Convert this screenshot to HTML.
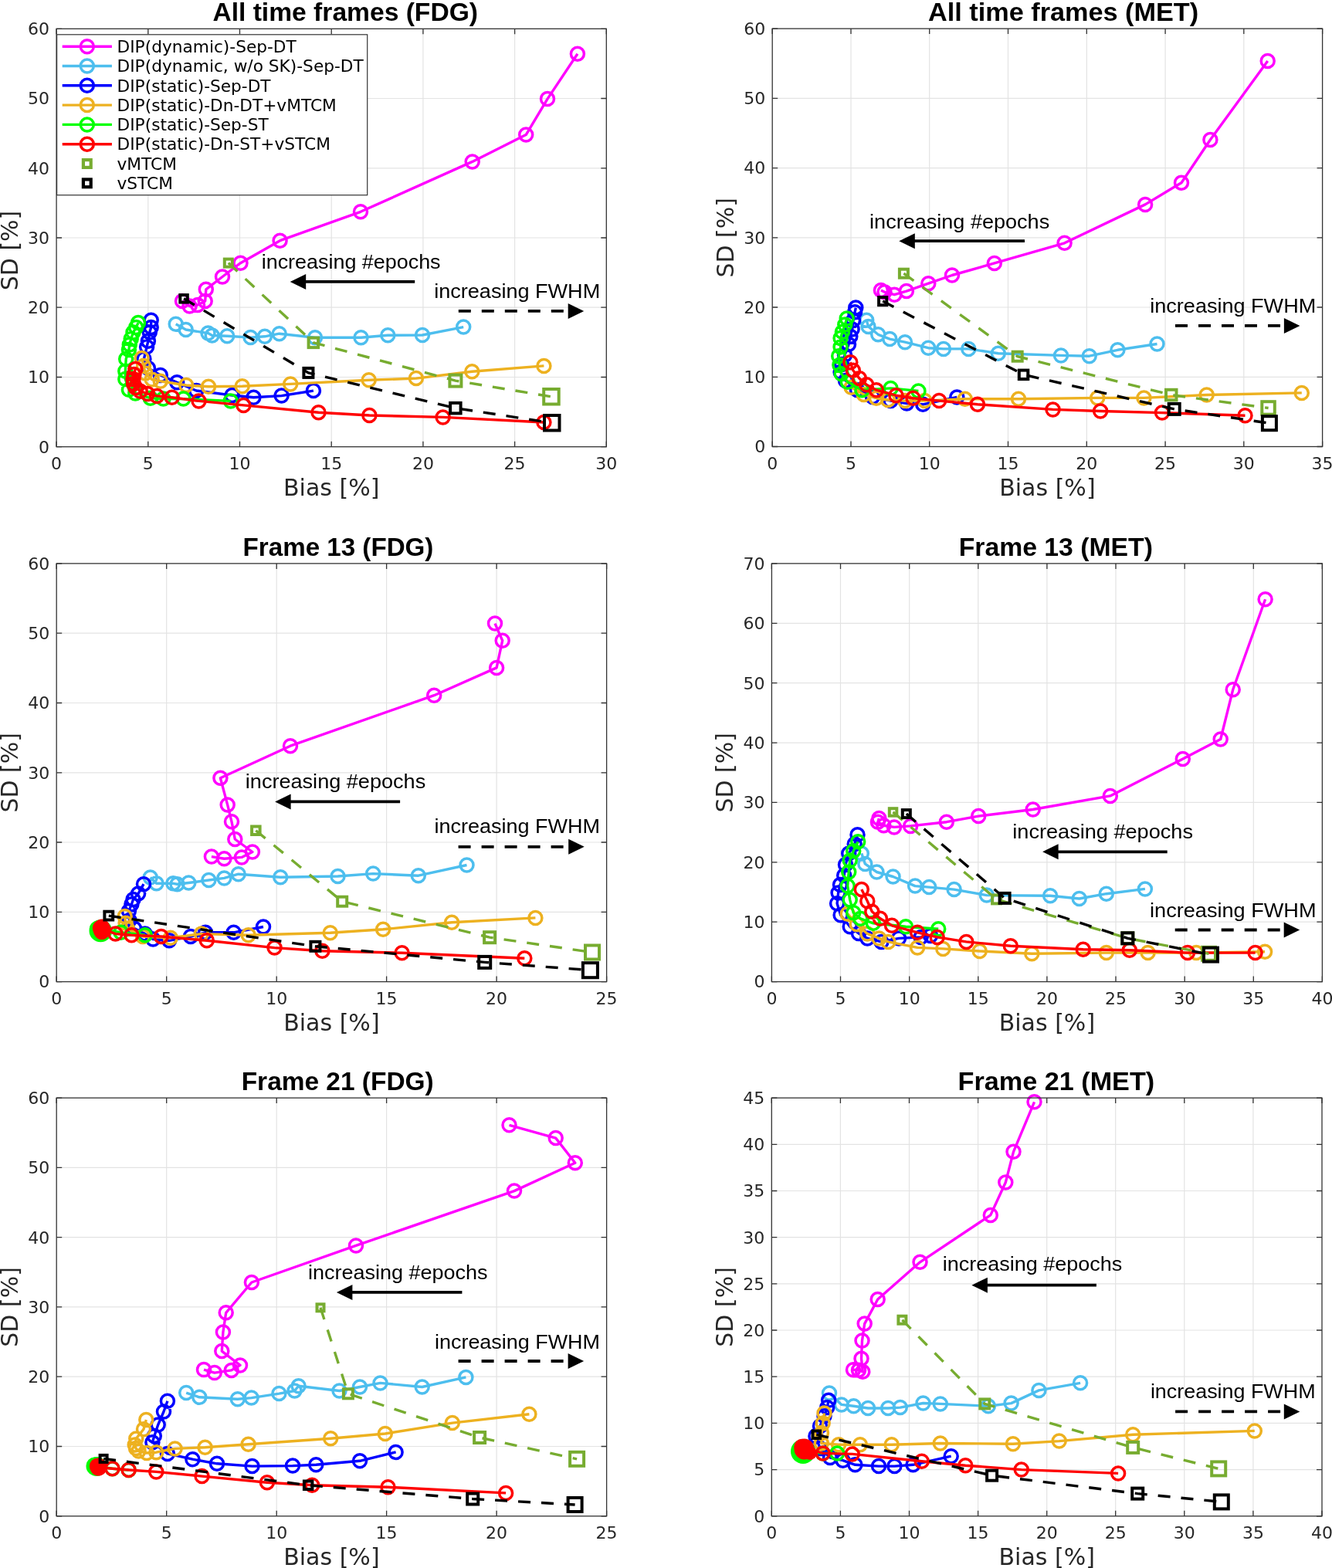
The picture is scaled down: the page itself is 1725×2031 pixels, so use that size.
<!DOCTYPE html>
<html><head><meta charset="utf-8"><style>
html,body{margin:0;padding:0;background:#fff;}
svg{display:block;}
</style></head><body>
<svg width="1725" height="2031" viewBox="0 0 1725 2031" font-family="'DejaVu Sans', 'Liberation Sans', sans-serif">
<rect width="1725" height="2031" fill="#fff"/>
<path d="M191.8 37.3V578.7M310.5 37.3V578.7M429.2 37.3V578.7M547.9 37.3V578.7M666.6 37.3V578.7M73.1 488.5H785.3M73.1 398.2H785.3M73.1 308H785.3M73.1 217.8H785.3M73.1 127.5H785.3" stroke="#e3e3e3" stroke-width="1.2" fill="none"/>
<clipPath id="c1"><rect x="61.1" y="25.3" width="736.2" height="565.4"/></clipPath>
<g clip-path="url(#c1)">
<polyline points="747.9,69.7 709,128.1 681.2,174.6 611.7,209.4 467,274.3 362.6,311.7 311.5,340.7 288,358.5 266.8,374.8 265.7,390 256,395 245.5,396.6 236,390" fill="none" stroke="#FF00FF" stroke-width="3.4" stroke-linejoin="round"/>
<path d="M739.4 69.7a8.5 8.5 0 1 0 17.0 0a8.5 8.5 0 1 0 -17.0 0M700.5 128.1a8.5 8.5 0 1 0 17.0 0a8.5 8.5 0 1 0 -17.0 0M672.7 174.6a8.5 8.5 0 1 0 17.0 0a8.5 8.5 0 1 0 -17.0 0M603.2 209.4a8.5 8.5 0 1 0 17.0 0a8.5 8.5 0 1 0 -17.0 0M458.5 274.3a8.5 8.5 0 1 0 17.0 0a8.5 8.5 0 1 0 -17.0 0M354.1 311.7a8.5 8.5 0 1 0 17.0 0a8.5 8.5 0 1 0 -17.0 0M303 340.7a8.5 8.5 0 1 0 17.0 0a8.5 8.5 0 1 0 -17.0 0M279.5 358.5a8.5 8.5 0 1 0 17.0 0a8.5 8.5 0 1 0 -17.0 0M258.3 374.8a8.5 8.5 0 1 0 17.0 0a8.5 8.5 0 1 0 -17.0 0M257.2 390a8.5 8.5 0 1 0 17.0 0a8.5 8.5 0 1 0 -17.0 0M247.5 395a8.5 8.5 0 1 0 17.0 0a8.5 8.5 0 1 0 -17.0 0M237 396.6a8.5 8.5 0 1 0 17.0 0a8.5 8.5 0 1 0 -17.0 0M227.5 390a8.5 8.5 0 1 0 17.0 0a8.5 8.5 0 1 0 -17.0 0" fill="none" stroke="#FF00FF" stroke-width="3.5"/>
<polyline points="227.7,419.8 240.7,427 269.5,431.6 274.7,434.5 294.2,435.3 324.5,437.1 342.9,435.8 361.7,432.2 408,437.2 467.5,437.2 502.3,434.3 547,434 600.2,423.6" fill="none" stroke="#4DBEEE" stroke-width="3.4" stroke-linejoin="round"/>
<path d="M219.2 419.8a8.5 8.5 0 1 0 17.0 0a8.5 8.5 0 1 0 -17.0 0M232.2 427a8.5 8.5 0 1 0 17.0 0a8.5 8.5 0 1 0 -17.0 0M261 431.6a8.5 8.5 0 1 0 17.0 0a8.5 8.5 0 1 0 -17.0 0M266.2 434.5a8.5 8.5 0 1 0 17.0 0a8.5 8.5 0 1 0 -17.0 0M285.7 435.3a8.5 8.5 0 1 0 17.0 0a8.5 8.5 0 1 0 -17.0 0M316 437.1a8.5 8.5 0 1 0 17.0 0a8.5 8.5 0 1 0 -17.0 0M334.4 435.8a8.5 8.5 0 1 0 17.0 0a8.5 8.5 0 1 0 -17.0 0M353.2 432.2a8.5 8.5 0 1 0 17.0 0a8.5 8.5 0 1 0 -17.0 0M399.5 437.2a8.5 8.5 0 1 0 17.0 0a8.5 8.5 0 1 0 -17.0 0M459 437.2a8.5 8.5 0 1 0 17.0 0a8.5 8.5 0 1 0 -17.0 0M493.8 434.3a8.5 8.5 0 1 0 17.0 0a8.5 8.5 0 1 0 -17.0 0M538.5 434a8.5 8.5 0 1 0 17.0 0a8.5 8.5 0 1 0 -17.0 0M591.7 423.6a8.5 8.5 0 1 0 17.0 0a8.5 8.5 0 1 0 -17.0 0" fill="none" stroke="#4DBEEE" stroke-width="3.5"/>
<polyline points="195.7,414.8 195.7,424.1 193.8,430.6 191.9,441.7 190.1,449.2 186.4,465 192,477 207.8,486 229.2,495.3 254.2,506 300.6,512 328.4,514.7 364.6,512.6 405.9,506.1" fill="none" stroke="#0000FF" stroke-width="3.4" stroke-linejoin="round"/>
<path d="M187.2 414.8a8.5 8.5 0 1 0 17.0 0a8.5 8.5 0 1 0 -17.0 0M187.2 424.1a8.5 8.5 0 1 0 17.0 0a8.5 8.5 0 1 0 -17.0 0M185.3 430.6a8.5 8.5 0 1 0 17.0 0a8.5 8.5 0 1 0 -17.0 0M183.4 441.7a8.5 8.5 0 1 0 17.0 0a8.5 8.5 0 1 0 -17.0 0M181.6 449.2a8.5 8.5 0 1 0 17.0 0a8.5 8.5 0 1 0 -17.0 0M177.9 465a8.5 8.5 0 1 0 17.0 0a8.5 8.5 0 1 0 -17.0 0M183.5 477a8.5 8.5 0 1 0 17.0 0a8.5 8.5 0 1 0 -17.0 0M199.3 486a8.5 8.5 0 1 0 17.0 0a8.5 8.5 0 1 0 -17.0 0M220.7 495.3a8.5 8.5 0 1 0 17.0 0a8.5 8.5 0 1 0 -17.0 0M245.7 506a8.5 8.5 0 1 0 17.0 0a8.5 8.5 0 1 0 -17.0 0M292.1 512a8.5 8.5 0 1 0 17.0 0a8.5 8.5 0 1 0 -17.0 0M319.9 514.7a8.5 8.5 0 1 0 17.0 0a8.5 8.5 0 1 0 -17.0 0M356.1 512.6a8.5 8.5 0 1 0 17.0 0a8.5 8.5 0 1 0 -17.0 0M397.4 506.1a8.5 8.5 0 1 0 17.0 0a8.5 8.5 0 1 0 -17.0 0" fill="none" stroke="#0000FF" stroke-width="3.5"/>
<polyline points="183.6,464 186,474 188.2,483.5 196.7,491.5 207.7,493.7 241.2,499 270,500.8 313.7,500.3 376.2,497.4 477.7,492.3 538.9,490.1 611.3,481.3 704.4,473.9" fill="none" stroke="#EDB120" stroke-width="3.4" stroke-linejoin="round"/>
<path d="M175.1 464a8.5 8.5 0 1 0 17.0 0a8.5 8.5 0 1 0 -17.0 0M177.5 474a8.5 8.5 0 1 0 17.0 0a8.5 8.5 0 1 0 -17.0 0M179.7 483.5a8.5 8.5 0 1 0 17.0 0a8.5 8.5 0 1 0 -17.0 0M188.2 491.5a8.5 8.5 0 1 0 17.0 0a8.5 8.5 0 1 0 -17.0 0M199.2 493.7a8.5 8.5 0 1 0 17.0 0a8.5 8.5 0 1 0 -17.0 0M232.7 499a8.5 8.5 0 1 0 17.0 0a8.5 8.5 0 1 0 -17.0 0M261.5 500.8a8.5 8.5 0 1 0 17.0 0a8.5 8.5 0 1 0 -17.0 0M305.2 500.3a8.5 8.5 0 1 0 17.0 0a8.5 8.5 0 1 0 -17.0 0M367.7 497.4a8.5 8.5 0 1 0 17.0 0a8.5 8.5 0 1 0 -17.0 0M469.2 492.3a8.5 8.5 0 1 0 17.0 0a8.5 8.5 0 1 0 -17.0 0M530.4 490.1a8.5 8.5 0 1 0 17.0 0a8.5 8.5 0 1 0 -17.0 0M602.8 481.3a8.5 8.5 0 1 0 17.0 0a8.5 8.5 0 1 0 -17.0 0M695.9 473.9a8.5 8.5 0 1 0 17.0 0a8.5 8.5 0 1 0 -17.0 0" fill="none" stroke="#EDB120" stroke-width="3.5"/>
<polyline points="179,418.1 176.2,424.1 172.5,430.6 169.7,439 167.8,446.4 166.9,452.9 163.2,465 162.3,480.7 162.3,491 166.9,504.8 175.3,509.5 194.8,515.7 211.5,516.6 237.5,516.6 298.7,519.4" fill="none" stroke="#00FF00" stroke-width="3.4" stroke-linejoin="round"/>
<path d="M170.5 418.1a8.5 8.5 0 1 0 17.0 0a8.5 8.5 0 1 0 -17.0 0M167.7 424.1a8.5 8.5 0 1 0 17.0 0a8.5 8.5 0 1 0 -17.0 0M164 430.6a8.5 8.5 0 1 0 17.0 0a8.5 8.5 0 1 0 -17.0 0M161.2 439a8.5 8.5 0 1 0 17.0 0a8.5 8.5 0 1 0 -17.0 0M159.3 446.4a8.5 8.5 0 1 0 17.0 0a8.5 8.5 0 1 0 -17.0 0M158.4 452.9a8.5 8.5 0 1 0 17.0 0a8.5 8.5 0 1 0 -17.0 0M154.7 465a8.5 8.5 0 1 0 17.0 0a8.5 8.5 0 1 0 -17.0 0M153.8 480.7a8.5 8.5 0 1 0 17.0 0a8.5 8.5 0 1 0 -17.0 0M153.8 491a8.5 8.5 0 1 0 17.0 0a8.5 8.5 0 1 0 -17.0 0M158.4 504.8a8.5 8.5 0 1 0 17.0 0a8.5 8.5 0 1 0 -17.0 0M166.8 509.5a8.5 8.5 0 1 0 17.0 0a8.5 8.5 0 1 0 -17.0 0M186.3 515.7a8.5 8.5 0 1 0 17.0 0a8.5 8.5 0 1 0 -17.0 0M203 516.6a8.5 8.5 0 1 0 17.0 0a8.5 8.5 0 1 0 -17.0 0M229 516.6a8.5 8.5 0 1 0 17.0 0a8.5 8.5 0 1 0 -17.0 0M290.2 519.4a8.5 8.5 0 1 0 17.0 0a8.5 8.5 0 1 0 -17.0 0" fill="none" stroke="#00FF00" stroke-width="3.5"/>
<polyline points="175.3,477.9 173.5,485 172.5,491 173,497 175.5,502 181.7,506.7 191,510 203.2,512.9 222.7,514.7 257.5,519.4 315.4,524.9 412.5,534.3 478.4,538 573.6,540.4 704.4,547" fill="none" stroke="#FF0000" stroke-width="3.4" stroke-linejoin="round"/>
<path d="M166.8 477.9a8.5 8.5 0 1 0 17.0 0a8.5 8.5 0 1 0 -17.0 0M165 485a8.5 8.5 0 1 0 17.0 0a8.5 8.5 0 1 0 -17.0 0M164 491a8.5 8.5 0 1 0 17.0 0a8.5 8.5 0 1 0 -17.0 0M164.5 497a8.5 8.5 0 1 0 17.0 0a8.5 8.5 0 1 0 -17.0 0M167 502a8.5 8.5 0 1 0 17.0 0a8.5 8.5 0 1 0 -17.0 0M173.2 506.7a8.5 8.5 0 1 0 17.0 0a8.5 8.5 0 1 0 -17.0 0M182.5 510a8.5 8.5 0 1 0 17.0 0a8.5 8.5 0 1 0 -17.0 0M194.7 512.9a8.5 8.5 0 1 0 17.0 0a8.5 8.5 0 1 0 -17.0 0M214.2 514.7a8.5 8.5 0 1 0 17.0 0a8.5 8.5 0 1 0 -17.0 0M249 519.4a8.5 8.5 0 1 0 17.0 0a8.5 8.5 0 1 0 -17.0 0M306.9 524.9a8.5 8.5 0 1 0 17.0 0a8.5 8.5 0 1 0 -17.0 0M404 534.3a8.5 8.5 0 1 0 17.0 0a8.5 8.5 0 1 0 -17.0 0M469.9 538a8.5 8.5 0 1 0 17.0 0a8.5 8.5 0 1 0 -17.0 0M565.1 540.4a8.5 8.5 0 1 0 17.0 0a8.5 8.5 0 1 0 -17.0 0M695.9 547a8.5 8.5 0 1 0 17.0 0a8.5 8.5 0 1 0 -17.0 0" fill="none" stroke="#FF0000" stroke-width="3.5"/>
<ellipse cx="175" cy="493" rx="3" ry="7" fill="#FF0000"/>
<polyline points="295.8,340.6 405.9,443.8 589.9,493.1 714,513.8" fill="none" stroke="#77AC30" stroke-width="3.4" stroke-dasharray="16 14"/>
<rect x="290.8" y="335.6" width="10" height="10" fill="none" stroke="#77AC30" stroke-width="4.0"/>
<rect x="399.6" y="437.6" width="12.5" height="12.5" fill="none" stroke="#77AC30" stroke-width="4.0"/>
<rect x="582.4" y="485.6" width="15" height="15" fill="none" stroke="#77AC30" stroke-width="4.0"/>
<rect x="704.2" y="504" width="19.5" height="19.5" fill="none" stroke="#77AC30" stroke-width="4.0"/>
<polyline points="238.1,386.8 399.4,482.9 589.9,528.6 714.8,547.8" fill="none" stroke="#000000" stroke-width="3.4" stroke-dasharray="16 14"/>
<rect x="233.3" y="382.1" width="9.5" height="9.5" fill="none" stroke="#000000" stroke-width="4.0"/>
<rect x="393.4" y="476.9" width="12" height="12" fill="none" stroke="#000000" stroke-width="4.0"/>
<rect x="583.1" y="521.9" width="13.5" height="13.5" fill="none" stroke="#000000" stroke-width="4.0"/>
<rect x="705" y="538" width="19.5" height="19.5" fill="none" stroke="#000000" stroke-width="4.0"/>
</g>
<text x="338.7" y="348.3" font-family="'Liberation Sans', sans-serif" font-size="25.5" textLength="231.9" lengthAdjust="spacingAndGlyphs" fill="#000">increasing #epochs</text>
<path d="M537.2 364.9H395.2" stroke="#000" stroke-width="3.8"/><path d="M375.7 364.9L396.2 354.9L396.2 374.9Z" fill="#000"/>
<text x="562.2" y="386.0" font-family="'Liberation Sans', sans-serif" font-size="25.5" textLength="215.0" lengthAdjust="spacingAndGlyphs" fill="#000">increasing FWHM</text>
<path d="M593.8 402.9H735.7" stroke="#000" stroke-width="3.8" stroke-dasharray="16 14"/><path d="M756.2 402.9L735.7 392.9L735.7 412.9Z" fill="#000"/>
<rect x="73.1" y="37.3" width="712.2" height="541.4" fill="none" stroke="#333" stroke-width="1.3"/>
<path d="M73.1 578.7v-7M73.1 37.3v7M191.8 578.7v-7M191.8 37.3v7M310.5 578.7v-7M310.5 37.3v7M429.2 578.7v-7M429.2 37.3v7M547.9 578.7v-7M547.9 37.3v7M666.6 578.7v-7M666.6 37.3v7M785.3 578.7v-7M785.3 37.3v7M73.1 578.7h7M785.3 578.7h-7M73.1 488.5h7M785.3 488.5h-7M73.1 398.2h7M785.3 398.2h-7M73.1 308h7M785.3 308h-7M73.1 217.8h7M785.3 217.8h-7M73.1 127.5h7M785.3 127.5h-7M73.1 37.3h7M785.3 37.3h-7" stroke="#333" stroke-width="1.3" fill="none"/>
<text x="73.1" y="607.7" text-anchor="middle" font-size="22" fill="#262626">0</text>
<text x="191.8" y="607.7" text-anchor="middle" font-size="22" fill="#262626">5</text>
<text x="310.5" y="607.7" text-anchor="middle" font-size="22" fill="#262626">10</text>
<text x="429.2" y="607.7" text-anchor="middle" font-size="22" fill="#262626">15</text>
<text x="547.9" y="607.7" text-anchor="middle" font-size="22" fill="#262626">20</text>
<text x="666.6" y="607.7" text-anchor="middle" font-size="22" fill="#262626">25</text>
<text x="785.3" y="607.7" text-anchor="middle" font-size="22" fill="#262626">30</text>
<text x="64.1" y="586.5" text-anchor="end" font-size="22" fill="#262626">0</text>
<text x="64.1" y="496.3" text-anchor="end" font-size="22" fill="#262626">10</text>
<text x="64.1" y="406" text-anchor="end" font-size="22" fill="#262626">20</text>
<text x="64.1" y="315.8" text-anchor="end" font-size="22" fill="#262626">30</text>
<text x="64.1" y="225.6" text-anchor="end" font-size="22" fill="#262626">40</text>
<text x="64.1" y="135.3" text-anchor="end" font-size="22" fill="#262626">50</text>
<text x="64.1" y="45.1" text-anchor="end" font-size="22" fill="#262626">60</text>
<text x="429.2" y="641.7" text-anchor="middle" font-size="30" fill="#262626">Bias [%]</text>
<text transform="translate(23.1 324.5) rotate(-90)" text-anchor="middle" font-size="30" fill="#262626">SD [%]</text>
<text x="275.4" y="27.2" font-family="'Liberation Sans', 'DejaVu Sans', sans-serif" font-weight="bold" font-size="34" textLength="343.6" lengthAdjust="spacingAndGlyphs" fill="#000">All time frames (FDG)</text>
<rect x="73.6" y="44.8" width="402.1" height="207.89999999999998" fill="#fff" stroke="#333" stroke-width="1.2"/>
<path d="M80.7 60.2H144.9" stroke="#FF00FF" stroke-width="3.4"/>
<circle cx="112.8" cy="60.2" r="8.5" fill="none" stroke="#FF00FF" stroke-width="3.5"/>
<text x="151.5" y="67.9" font-size="21.7" fill="#000">DIP(dynamic)-Sep-DT</text>
<path d="M80.7 85.5H144.9" stroke="#4DBEEE" stroke-width="3.4"/>
<circle cx="112.8" cy="85.5" r="8.5" fill="none" stroke="#4DBEEE" stroke-width="3.5"/>
<text x="151.5" y="93.2" font-size="21.7" fill="#000">DIP(dynamic, w/o SK)-Sep-DT</text>
<path d="M80.7 110.8H144.9" stroke="#0000FF" stroke-width="3.4"/>
<circle cx="112.8" cy="110.8" r="8.5" fill="none" stroke="#0000FF" stroke-width="3.5"/>
<text x="151.5" y="118.5" font-size="21.7" fill="#000">DIP(static)-Sep-DT</text>
<path d="M80.7 136.1H144.9" stroke="#EDB120" stroke-width="3.4"/>
<circle cx="112.8" cy="136.1" r="8.5" fill="none" stroke="#EDB120" stroke-width="3.5"/>
<text x="151.5" y="143.8" font-size="21.7" fill="#000">DIP(static)-Dn-DT+vMTCM</text>
<path d="M80.7 161.4H144.9" stroke="#00FF00" stroke-width="3.4"/>
<circle cx="112.8" cy="161.4" r="8.5" fill="none" stroke="#00FF00" stroke-width="3.5"/>
<text x="151.5" y="169.1" font-size="21.7" fill="#000">DIP(static)-Sep-ST</text>
<path d="M80.7 186.7H144.9" stroke="#FF0000" stroke-width="3.4"/>
<circle cx="112.8" cy="186.7" r="8.5" fill="none" stroke="#FF0000" stroke-width="3.5"/>
<text x="151.5" y="194.4" font-size="21.7" fill="#000">DIP(static)-Dn-ST+vSTCM</text>
<rect x="107.9" y="207.1" width="9.8" height="9.8" fill="none" stroke="#77AC30" stroke-width="4.2"/>
<text x="151.5" y="219.7" font-size="21.7" fill="#000">vMTCM</text>
<rect x="107.9" y="232.4" width="9.8" height="9.8" fill="none" stroke="#000000" stroke-width="4.2"/>
<text x="151.5" y="245" font-size="21.7" fill="#000">vSTCM</text>
<path d="M1102 37.1V578.5M1203.7 37.1V578.5M1305.5 37.1V578.5M1407.3 37.1V578.5M1509.1 37.1V578.5M1610.8 37.1V578.5M1000.2 488.3H1712.6M1000.2 398H1712.6M1000.2 307.8H1712.6M1000.2 217.6H1712.6M1000.2 127.3H1712.6" stroke="#e3e3e3" stroke-width="1.2" fill="none"/>
<clipPath id="c2"><rect x="988.2" y="25.1" width="736.4" height="565.4"/></clipPath>
<g clip-path="url(#c2)">
<polyline points="1641.7,79.1 1567.4,181 1530,236.7 1483.1,264.9 1378.6,314.8 1287.8,340.9 1233,356.5 1202.3,367.2 1173.9,377.1 1158.3,381.7 1145.5,378.3 1140.9,375.9" fill="none" stroke="#FF00FF" stroke-width="3.4" stroke-linejoin="round"/>
<path d="M1633.2 79.1a8.5 8.5 0 1 0 17.0 0a8.5 8.5 0 1 0 -17.0 0M1558.9 181a8.5 8.5 0 1 0 17.0 0a8.5 8.5 0 1 0 -17.0 0M1521.5 236.7a8.5 8.5 0 1 0 17.0 0a8.5 8.5 0 1 0 -17.0 0M1474.6 264.9a8.5 8.5 0 1 0 17.0 0a8.5 8.5 0 1 0 -17.0 0M1370.1 314.8a8.5 8.5 0 1 0 17.0 0a8.5 8.5 0 1 0 -17.0 0M1279.3 340.9a8.5 8.5 0 1 0 17.0 0a8.5 8.5 0 1 0 -17.0 0M1224.5 356.5a8.5 8.5 0 1 0 17.0 0a8.5 8.5 0 1 0 -17.0 0M1193.8 367.2a8.5 8.5 0 1 0 17.0 0a8.5 8.5 0 1 0 -17.0 0M1165.4 377.1a8.5 8.5 0 1 0 17.0 0a8.5 8.5 0 1 0 -17.0 0M1149.8 381.7a8.5 8.5 0 1 0 17.0 0a8.5 8.5 0 1 0 -17.0 0M1137 378.3a8.5 8.5 0 1 0 17.0 0a8.5 8.5 0 1 0 -17.0 0M1132.4 375.9a8.5 8.5 0 1 0 17.0 0a8.5 8.5 0 1 0 -17.0 0" fill="none" stroke="#FF00FF" stroke-width="3.5"/>
<polyline points="1122.2,414.8 1124.5,422.9 1137.2,433.3 1152.3,439.1 1172,443.2 1202.2,450.7 1221.9,451.9 1254.3,451.9 1292.8,457.8 1374,460.4 1410.7,461.2 1447.4,453.3 1498.5,445.5" fill="none" stroke="#4DBEEE" stroke-width="3.4" stroke-linejoin="round"/>
<path d="M1113.7 414.8a8.5 8.5 0 1 0 17.0 0a8.5 8.5 0 1 0 -17.0 0M1116 422.9a8.5 8.5 0 1 0 17.0 0a8.5 8.5 0 1 0 -17.0 0M1128.7 433.3a8.5 8.5 0 1 0 17.0 0a8.5 8.5 0 1 0 -17.0 0M1143.8 439.1a8.5 8.5 0 1 0 17.0 0a8.5 8.5 0 1 0 -17.0 0M1163.5 443.2a8.5 8.5 0 1 0 17.0 0a8.5 8.5 0 1 0 -17.0 0M1193.7 450.7a8.5 8.5 0 1 0 17.0 0a8.5 8.5 0 1 0 -17.0 0M1213.4 451.9a8.5 8.5 0 1 0 17.0 0a8.5 8.5 0 1 0 -17.0 0M1245.8 451.9a8.5 8.5 0 1 0 17.0 0a8.5 8.5 0 1 0 -17.0 0M1284.3 457.8a8.5 8.5 0 1 0 17.0 0a8.5 8.5 0 1 0 -17.0 0M1365.5 460.4a8.5 8.5 0 1 0 17.0 0a8.5 8.5 0 1 0 -17.0 0M1402.2 461.2a8.5 8.5 0 1 0 17.0 0a8.5 8.5 0 1 0 -17.0 0M1438.9 453.3a8.5 8.5 0 1 0 17.0 0a8.5 8.5 0 1 0 -17.0 0M1490 445.5a8.5 8.5 0 1 0 17.0 0a8.5 8.5 0 1 0 -17.0 0" fill="none" stroke="#4DBEEE" stroke-width="3.5"/>
<polyline points="1108.3,398.6 1107.1,404.3 1105,415 1103.6,426.4 1101.3,435.7 1099,446.1 1094,460 1090,472 1088.6,482 1095,493 1110,505 1130,514 1153.5,519.1 1174.3,522.6 1195.2,523.8 1239.3,514.5" fill="none" stroke="#0000FF" stroke-width="3.4" stroke-linejoin="round"/>
<path d="M1099.8 398.6a8.5 8.5 0 1 0 17.0 0a8.5 8.5 0 1 0 -17.0 0M1098.6 404.3a8.5 8.5 0 1 0 17.0 0a8.5 8.5 0 1 0 -17.0 0M1096.5 415a8.5 8.5 0 1 0 17.0 0a8.5 8.5 0 1 0 -17.0 0M1095.1 426.4a8.5 8.5 0 1 0 17.0 0a8.5 8.5 0 1 0 -17.0 0M1092.8 435.7a8.5 8.5 0 1 0 17.0 0a8.5 8.5 0 1 0 -17.0 0M1090.5 446.1a8.5 8.5 0 1 0 17.0 0a8.5 8.5 0 1 0 -17.0 0M1085.5 460a8.5 8.5 0 1 0 17.0 0a8.5 8.5 0 1 0 -17.0 0M1081.5 472a8.5 8.5 0 1 0 17.0 0a8.5 8.5 0 1 0 -17.0 0M1080.1 482a8.5 8.5 0 1 0 17.0 0a8.5 8.5 0 1 0 -17.0 0M1086.5 493a8.5 8.5 0 1 0 17.0 0a8.5 8.5 0 1 0 -17.0 0M1101.5 505a8.5 8.5 0 1 0 17.0 0a8.5 8.5 0 1 0 -17.0 0M1121.5 514a8.5 8.5 0 1 0 17.0 0a8.5 8.5 0 1 0 -17.0 0M1145 519.1a8.5 8.5 0 1 0 17.0 0a8.5 8.5 0 1 0 -17.0 0M1165.8 522.6a8.5 8.5 0 1 0 17.0 0a8.5 8.5 0 1 0 -17.0 0M1186.7 523.8a8.5 8.5 0 1 0 17.0 0a8.5 8.5 0 1 0 -17.0 0M1230.8 514.5a8.5 8.5 0 1 0 17.0 0a8.5 8.5 0 1 0 -17.0 0" fill="none" stroke="#0000FF" stroke-width="3.5"/>
<polyline points="1102.5,501.7 1118.7,511 1134.9,515.7 1150,518 1172,519.1 1197.5,519.1 1249.7,516.8 1319,516.8 1421.2,515.4 1481.4,515.4 1562.7,511.5 1685.8,508.9" fill="none" stroke="#EDB120" stroke-width="3.4" stroke-linejoin="round"/>
<path d="M1094 501.7a8.5 8.5 0 1 0 17.0 0a8.5 8.5 0 1 0 -17.0 0M1110.2 511a8.5 8.5 0 1 0 17.0 0a8.5 8.5 0 1 0 -17.0 0M1126.4 515.7a8.5 8.5 0 1 0 17.0 0a8.5 8.5 0 1 0 -17.0 0M1141.5 518a8.5 8.5 0 1 0 17.0 0a8.5 8.5 0 1 0 -17.0 0M1163.5 519.1a8.5 8.5 0 1 0 17.0 0a8.5 8.5 0 1 0 -17.0 0M1189 519.1a8.5 8.5 0 1 0 17.0 0a8.5 8.5 0 1 0 -17.0 0M1241.2 516.8a8.5 8.5 0 1 0 17.0 0a8.5 8.5 0 1 0 -17.0 0M1310.5 516.8a8.5 8.5 0 1 0 17.0 0a8.5 8.5 0 1 0 -17.0 0M1412.7 515.4a8.5 8.5 0 1 0 17.0 0a8.5 8.5 0 1 0 -17.0 0M1472.9 515.4a8.5 8.5 0 1 0 17.0 0a8.5 8.5 0 1 0 -17.0 0M1554.2 511.5a8.5 8.5 0 1 0 17.0 0a8.5 8.5 0 1 0 -17.0 0M1677.3 508.9a8.5 8.5 0 1 0 17.0 0a8.5 8.5 0 1 0 -17.0 0" fill="none" stroke="#EDB120" stroke-width="3.5"/>
<polyline points="1096.7,412.5 1094.3,420.6 1090.9,429.9 1088.6,438 1088.6,449.6 1086.2,461.2 1087.4,472.8 1089.7,484.3 1097.8,494.8 1116.4,505.2 1153.5,502.9 1189.4,506.4" fill="none" stroke="#00FF00" stroke-width="3.4" stroke-linejoin="round"/>
<path d="M1088.2 412.5a8.5 8.5 0 1 0 17.0 0a8.5 8.5 0 1 0 -17.0 0M1085.8 420.6a8.5 8.5 0 1 0 17.0 0a8.5 8.5 0 1 0 -17.0 0M1082.4 429.9a8.5 8.5 0 1 0 17.0 0a8.5 8.5 0 1 0 -17.0 0M1080.1 438a8.5 8.5 0 1 0 17.0 0a8.5 8.5 0 1 0 -17.0 0M1080.1 449.6a8.5 8.5 0 1 0 17.0 0a8.5 8.5 0 1 0 -17.0 0M1077.7 461.2a8.5 8.5 0 1 0 17.0 0a8.5 8.5 0 1 0 -17.0 0M1078.9 472.8a8.5 8.5 0 1 0 17.0 0a8.5 8.5 0 1 0 -17.0 0M1081.2 484.3a8.5 8.5 0 1 0 17.0 0a8.5 8.5 0 1 0 -17.0 0M1089.3 494.8a8.5 8.5 0 1 0 17.0 0a8.5 8.5 0 1 0 -17.0 0M1107.9 505.2a8.5 8.5 0 1 0 17.0 0a8.5 8.5 0 1 0 -17.0 0M1145 502.9a8.5 8.5 0 1 0 17.0 0a8.5 8.5 0 1 0 -17.0 0M1180.9 506.4a8.5 8.5 0 1 0 17.0 0a8.5 8.5 0 1 0 -17.0 0" fill="none" stroke="#00FF00" stroke-width="3.5"/>
<polyline points="1101.3,469.3 1104.8,479.7 1112.9,490.1 1122.2,498.3 1134.9,505.2 1160.4,512.2 1182.5,515.7 1216.1,519.1 1265.9,523.8 1363.5,530.4 1425.1,532.5 1505,534.6 1612.5,538.2" fill="none" stroke="#FF0000" stroke-width="3.4" stroke-linejoin="round"/>
<path d="M1092.8 469.3a8.5 8.5 0 1 0 17.0 0a8.5 8.5 0 1 0 -17.0 0M1096.3 479.7a8.5 8.5 0 1 0 17.0 0a8.5 8.5 0 1 0 -17.0 0M1104.4 490.1a8.5 8.5 0 1 0 17.0 0a8.5 8.5 0 1 0 -17.0 0M1113.7 498.3a8.5 8.5 0 1 0 17.0 0a8.5 8.5 0 1 0 -17.0 0M1126.4 505.2a8.5 8.5 0 1 0 17.0 0a8.5 8.5 0 1 0 -17.0 0M1151.9 512.2a8.5 8.5 0 1 0 17.0 0a8.5 8.5 0 1 0 -17.0 0M1174 515.7a8.5 8.5 0 1 0 17.0 0a8.5 8.5 0 1 0 -17.0 0M1207.6 519.1a8.5 8.5 0 1 0 17.0 0a8.5 8.5 0 1 0 -17.0 0M1257.4 523.8a8.5 8.5 0 1 0 17.0 0a8.5 8.5 0 1 0 -17.0 0M1355 530.4a8.5 8.5 0 1 0 17.0 0a8.5 8.5 0 1 0 -17.0 0M1416.6 532.5a8.5 8.5 0 1 0 17.0 0a8.5 8.5 0 1 0 -17.0 0M1496.5 534.6a8.5 8.5 0 1 0 17.0 0a8.5 8.5 0 1 0 -17.0 0M1604 538.2a8.5 8.5 0 1 0 17.0 0a8.5 8.5 0 1 0 -17.0 0" fill="none" stroke="#FF0000" stroke-width="3.5"/>
<polyline points="1170.4,354.2 1317.7,461.7 1516.8,511.5 1642.6,528.5" fill="none" stroke="#77AC30" stroke-width="3.4" stroke-dasharray="16 14"/>
<rect x="1164.9" y="348.7" width="11" height="11" fill="none" stroke="#77AC30" stroke-width="4.0"/>
<rect x="1311.7" y="455.7" width="12" height="12" fill="none" stroke="#77AC30" stroke-width="4.0"/>
<rect x="1510" y="504.8" width="13.5" height="13.5" fill="none" stroke="#77AC30" stroke-width="4.0"/>
<rect x="1634.3" y="520.2" width="16.5" height="16.5" fill="none" stroke="#77AC30" stroke-width="4.0"/>
<polyline points="1143.2,390.1 1325.5,485.3 1520.7,529.9 1643.9,548.2" fill="none" stroke="#000000" stroke-width="3.4" stroke-dasharray="16 14"/>
<rect x="1138.1" y="385" width="10.2" height="10.2" fill="none" stroke="#000000" stroke-width="4.0"/>
<rect x="1319.8" y="479.6" width="11.5" height="11.5" fill="none" stroke="#000000" stroke-width="4.0"/>
<rect x="1513.7" y="522.9" width="14" height="14" fill="none" stroke="#000000" stroke-width="4.0"/>
<rect x="1634.9" y="539.2" width="18" height="18" fill="none" stroke="#000000" stroke-width="4.0"/>
</g>
<text x="1126.1" y="295.6" font-family="'Liberation Sans', sans-serif" font-size="25.5" textLength="233.1" lengthAdjust="spacingAndGlyphs" fill="#000">increasing #epochs</text>
<path d="M1327.0 312.2H1183.8" stroke="#000" stroke-width="3.8"/><path d="M1164.3 312.2L1184.8 302.2L1184.8 322.2Z" fill="#000"/>
<text x="1489.3" y="405.4" font-family="'Liberation Sans', sans-serif" font-size="25.5" textLength="214.9" lengthAdjust="spacingAndGlyphs" fill="#000">increasing FWHM</text>
<path d="M1522.0 421.9H1662.9" stroke="#000" stroke-width="3.8" stroke-dasharray="16 14"/><path d="M1683.4 421.9L1662.9 411.9L1662.9 431.9Z" fill="#000"/>
<rect x="1000.2" y="37.1" width="712.4" height="541.4" fill="none" stroke="#333" stroke-width="1.3"/>
<path d="M1000.2 578.5v-7M1000.2 37.1v7M1102 578.5v-7M1102 37.1v7M1203.7 578.5v-7M1203.7 37.1v7M1305.5 578.5v-7M1305.5 37.1v7M1407.3 578.5v-7M1407.3 37.1v7M1509.1 578.5v-7M1509.1 37.1v7M1610.8 578.5v-7M1610.8 37.1v7M1712.6 578.5v-7M1712.6 37.1v7M1000.2 578.5h7M1712.6 578.5h-7M1000.2 488.3h7M1712.6 488.3h-7M1000.2 398h7M1712.6 398h-7M1000.2 307.8h7M1712.6 307.8h-7M1000.2 217.6h7M1712.6 217.6h-7M1000.2 127.3h7M1712.6 127.3h-7M1000.2 37.1h7M1712.6 37.1h-7" stroke="#333" stroke-width="1.3" fill="none"/>
<text x="1000.2" y="607.5" text-anchor="middle" font-size="22" fill="#262626">0</text>
<text x="1102" y="607.5" text-anchor="middle" font-size="22" fill="#262626">5</text>
<text x="1203.7" y="607.5" text-anchor="middle" font-size="22" fill="#262626">10</text>
<text x="1305.5" y="607.5" text-anchor="middle" font-size="22" fill="#262626">15</text>
<text x="1407.3" y="607.5" text-anchor="middle" font-size="22" fill="#262626">20</text>
<text x="1509.1" y="607.5" text-anchor="middle" font-size="22" fill="#262626">25</text>
<text x="1610.8" y="607.5" text-anchor="middle" font-size="22" fill="#262626">30</text>
<text x="1712.6" y="607.5" text-anchor="middle" font-size="22" fill="#262626">35</text>
<text x="991.2" y="586.3" text-anchor="end" font-size="22" fill="#262626">0</text>
<text x="991.2" y="496.1" text-anchor="end" font-size="22" fill="#262626">10</text>
<text x="991.2" y="405.8" text-anchor="end" font-size="22" fill="#262626">20</text>
<text x="991.2" y="315.6" text-anchor="end" font-size="22" fill="#262626">30</text>
<text x="991.2" y="225.4" text-anchor="end" font-size="22" fill="#262626">40</text>
<text x="991.2" y="135.1" text-anchor="end" font-size="22" fill="#262626">50</text>
<text x="991.2" y="44.9" text-anchor="end" font-size="22" fill="#262626">60</text>
<text x="1356.4" y="641.5" text-anchor="middle" font-size="30" fill="#262626">Bias [%]</text>
<text transform="translate(950.2 307.8) rotate(-90)" text-anchor="middle" font-size="30" fill="#262626">SD [%]</text>
<text x="1202" y="27" font-family="'Liberation Sans', 'DejaVu Sans', sans-serif" font-weight="bold" font-size="34" textLength="350.2" lengthAdjust="spacingAndGlyphs" fill="#000">All time frames (MET)</text>
<path d="M215.7 729.9V1271.6M358.2 729.9V1271.6M500.6 729.9V1271.6M643.1 729.9V1271.6M73.2 1181.3H785.6M73.2 1091H785.6M73.2 1000.8H785.6M73.2 910.5H785.6M73.2 820.2H785.6" stroke="#e3e3e3" stroke-width="1.2" fill="none"/>
<clipPath id="c3"><rect x="61.2" y="717.9" width="736.4" height="565.7"/></clipPath>
<g clip-path="url(#c3)">
<polyline points="641,807.6 650.7,829.7 643.1,864.9 562.2,900.7 376,966.2 285.4,1007.8 294.7,1042.6 300,1064.3 304.3,1087 326.9,1103.5 313,1110.4 290.4,1112.2 273.9,1109.6" fill="none" stroke="#FF00FF" stroke-width="3.4" stroke-linejoin="round"/>
<path d="M632.5 807.6a8.5 8.5 0 1 0 17.0 0a8.5 8.5 0 1 0 -17.0 0M642.2 829.7a8.5 8.5 0 1 0 17.0 0a8.5 8.5 0 1 0 -17.0 0M634.6 864.9a8.5 8.5 0 1 0 17.0 0a8.5 8.5 0 1 0 -17.0 0M553.7 900.7a8.5 8.5 0 1 0 17.0 0a8.5 8.5 0 1 0 -17.0 0M367.5 966.2a8.5 8.5 0 1 0 17.0 0a8.5 8.5 0 1 0 -17.0 0M276.9 1007.8a8.5 8.5 0 1 0 17.0 0a8.5 8.5 0 1 0 -17.0 0M286.2 1042.6a8.5 8.5 0 1 0 17.0 0a8.5 8.5 0 1 0 -17.0 0M291.5 1064.3a8.5 8.5 0 1 0 17.0 0a8.5 8.5 0 1 0 -17.0 0M295.8 1087a8.5 8.5 0 1 0 17.0 0a8.5 8.5 0 1 0 -17.0 0M318.4 1103.5a8.5 8.5 0 1 0 17.0 0a8.5 8.5 0 1 0 -17.0 0M304.5 1110.4a8.5 8.5 0 1 0 17.0 0a8.5 8.5 0 1 0 -17.0 0M281.9 1112.2a8.5 8.5 0 1 0 17.0 0a8.5 8.5 0 1 0 -17.0 0M265.4 1109.6a8.5 8.5 0 1 0 17.0 0a8.5 8.5 0 1 0 -17.0 0" fill="none" stroke="#FF00FF" stroke-width="3.5"/>
<polyline points="194.7,1136.5 202.6,1144.3 224.3,1144.3 229.5,1145.2 244.3,1143.5 270.4,1140 290.4,1137.4 308.7,1132.2 363.2,1136.2 437.5,1135 483.2,1131.6 541.8,1134.2 604.5,1120.5" fill="none" stroke="#4DBEEE" stroke-width="3.4" stroke-linejoin="round"/>
<path d="M186.2 1136.5a8.5 8.5 0 1 0 17.0 0a8.5 8.5 0 1 0 -17.0 0M194.1 1144.3a8.5 8.5 0 1 0 17.0 0a8.5 8.5 0 1 0 -17.0 0M215.8 1144.3a8.5 8.5 0 1 0 17.0 0a8.5 8.5 0 1 0 -17.0 0M221 1145.2a8.5 8.5 0 1 0 17.0 0a8.5 8.5 0 1 0 -17.0 0M235.8 1143.5a8.5 8.5 0 1 0 17.0 0a8.5 8.5 0 1 0 -17.0 0M261.9 1140a8.5 8.5 0 1 0 17.0 0a8.5 8.5 0 1 0 -17.0 0M281.9 1137.4a8.5 8.5 0 1 0 17.0 0a8.5 8.5 0 1 0 -17.0 0M300.2 1132.2a8.5 8.5 0 1 0 17.0 0a8.5 8.5 0 1 0 -17.0 0M354.7 1136.2a8.5 8.5 0 1 0 17.0 0a8.5 8.5 0 1 0 -17.0 0M429 1135a8.5 8.5 0 1 0 17.0 0a8.5 8.5 0 1 0 -17.0 0M474.7 1131.6a8.5 8.5 0 1 0 17.0 0a8.5 8.5 0 1 0 -17.0 0M533.3 1134.2a8.5 8.5 0 1 0 17.0 0a8.5 8.5 0 1 0 -17.0 0M596 1120.5a8.5 8.5 0 1 0 17.0 0a8.5 8.5 0 1 0 -17.0 0" fill="none" stroke="#4DBEEE" stroke-width="3.5"/>
<polyline points="186,1145.2 179.1,1157.4 172.5,1165 170.4,1171.3 166.9,1180 167.5,1192 173.9,1202.6 187.8,1209.6 198.2,1216.5 219.1,1218.3 246.9,1213 266,1207.8 302.6,1207.8 341,1200.5" fill="none" stroke="#0000FF" stroke-width="3.4" stroke-linejoin="round"/>
<path d="M177.5 1145.2a8.5 8.5 0 1 0 17.0 0a8.5 8.5 0 1 0 -17.0 0M170.6 1157.4a8.5 8.5 0 1 0 17.0 0a8.5 8.5 0 1 0 -17.0 0M164 1165a8.5 8.5 0 1 0 17.0 0a8.5 8.5 0 1 0 -17.0 0M161.9 1171.3a8.5 8.5 0 1 0 17.0 0a8.5 8.5 0 1 0 -17.0 0M158.4 1180a8.5 8.5 0 1 0 17.0 0a8.5 8.5 0 1 0 -17.0 0M159 1192a8.5 8.5 0 1 0 17.0 0a8.5 8.5 0 1 0 -17.0 0M165.4 1202.6a8.5 8.5 0 1 0 17.0 0a8.5 8.5 0 1 0 -17.0 0M179.3 1209.6a8.5 8.5 0 1 0 17.0 0a8.5 8.5 0 1 0 -17.0 0M189.7 1216.5a8.5 8.5 0 1 0 17.0 0a8.5 8.5 0 1 0 -17.0 0M210.6 1218.3a8.5 8.5 0 1 0 17.0 0a8.5 8.5 0 1 0 -17.0 0M238.4 1213a8.5 8.5 0 1 0 17.0 0a8.5 8.5 0 1 0 -17.0 0M257.5 1207.8a8.5 8.5 0 1 0 17.0 0a8.5 8.5 0 1 0 -17.0 0M294.1 1207.8a8.5 8.5 0 1 0 17.0 0a8.5 8.5 0 1 0 -17.0 0M332.5 1200.5a8.5 8.5 0 1 0 17.0 0a8.5 8.5 0 1 0 -17.0 0" fill="none" stroke="#0000FF" stroke-width="3.5"/>
<polyline points="161.7,1187 162.6,1195.7 165,1203 185,1213 220.8,1214.8 260.8,1209.6 321.7,1211.3 427.7,1208.2 496.1,1203.8 585.1,1194.8 693.4,1188.9" fill="none" stroke="#EDB120" stroke-width="3.4" stroke-linejoin="round"/>
<path d="M153.2 1187a8.5 8.5 0 1 0 17.0 0a8.5 8.5 0 1 0 -17.0 0M154.1 1195.7a8.5 8.5 0 1 0 17.0 0a8.5 8.5 0 1 0 -17.0 0M156.5 1203a8.5 8.5 0 1 0 17.0 0a8.5 8.5 0 1 0 -17.0 0M176.5 1213a8.5 8.5 0 1 0 17.0 0a8.5 8.5 0 1 0 -17.0 0M212.3 1214.8a8.5 8.5 0 1 0 17.0 0a8.5 8.5 0 1 0 -17.0 0M252.3 1209.6a8.5 8.5 0 1 0 17.0 0a8.5 8.5 0 1 0 -17.0 0M313.2 1211.3a8.5 8.5 0 1 0 17.0 0a8.5 8.5 0 1 0 -17.0 0M419.2 1208.2a8.5 8.5 0 1 0 17.0 0a8.5 8.5 0 1 0 -17.0 0M487.6 1203.8a8.5 8.5 0 1 0 17.0 0a8.5 8.5 0 1 0 -17.0 0M576.6 1194.8a8.5 8.5 0 1 0 17.0 0a8.5 8.5 0 1 0 -17.0 0M684.9 1188.9a8.5 8.5 0 1 0 17.0 0a8.5 8.5 0 1 0 -17.0 0" fill="none" stroke="#EDB120" stroke-width="3.5"/>
<polyline points="126,1203 127,1205 129,1206 131,1204 156.5,1207.8 187.8,1211.3" fill="none" stroke="#00FF00" stroke-width="3.4" stroke-linejoin="round"/>
<path d="M117.5 1203a8.5 8.5 0 1 0 17.0 0a8.5 8.5 0 1 0 -17.0 0M118.5 1205a8.5 8.5 0 1 0 17.0 0a8.5 8.5 0 1 0 -17.0 0M120.5 1206a8.5 8.5 0 1 0 17.0 0a8.5 8.5 0 1 0 -17.0 0M122.5 1204a8.5 8.5 0 1 0 17.0 0a8.5 8.5 0 1 0 -17.0 0M148 1207.8a8.5 8.5 0 1 0 17.0 0a8.5 8.5 0 1 0 -17.0 0M179.3 1211.3a8.5 8.5 0 1 0 17.0 0a8.5 8.5 0 1 0 -17.0 0" fill="none" stroke="#00FF00" stroke-width="3.5"/>
<ellipse cx="130.3" cy="1205.8" rx="14.8" ry="14.5" fill="#00FF00"/>
<polyline points="130,1202 131,1204 133,1203.5 132.1,1202.6 149.5,1209.6 170.4,1211.3 208.7,1213 267.8,1218.3 355.5,1227.6 417.4,1231.7 520.6,1234.3 679.3,1241.2" fill="none" stroke="#FF0000" stroke-width="3.4" stroke-linejoin="round"/>
<path d="M121.5 1202a8.5 8.5 0 1 0 17.0 0a8.5 8.5 0 1 0 -17.0 0M122.5 1204a8.5 8.5 0 1 0 17.0 0a8.5 8.5 0 1 0 -17.0 0M124.5 1203.5a8.5 8.5 0 1 0 17.0 0a8.5 8.5 0 1 0 -17.0 0M123.6 1202.6a8.5 8.5 0 1 0 17.0 0a8.5 8.5 0 1 0 -17.0 0M141 1209.6a8.5 8.5 0 1 0 17.0 0a8.5 8.5 0 1 0 -17.0 0M161.9 1211.3a8.5 8.5 0 1 0 17.0 0a8.5 8.5 0 1 0 -17.0 0M200.2 1213a8.5 8.5 0 1 0 17.0 0a8.5 8.5 0 1 0 -17.0 0M259.3 1218.3a8.5 8.5 0 1 0 17.0 0a8.5 8.5 0 1 0 -17.0 0M347 1227.6a8.5 8.5 0 1 0 17.0 0a8.5 8.5 0 1 0 -17.0 0M408.9 1231.7a8.5 8.5 0 1 0 17.0 0a8.5 8.5 0 1 0 -17.0 0M512.1 1234.3a8.5 8.5 0 1 0 17.0 0a8.5 8.5 0 1 0 -17.0 0M670.8 1241.2a8.5 8.5 0 1 0 17.0 0a8.5 8.5 0 1 0 -17.0 0" fill="none" stroke="#FF0000" stroke-width="3.5"/>
<ellipse cx="131.8" cy="1203.8" rx="11.2" ry="13.2" fill="#FF0000"/>
<polyline points="331.3,1075.7 443.2,1167.7 634.1,1214.2 767,1233.5" fill="none" stroke="#77AC30" stroke-width="3.4" stroke-dasharray="16 14"/>
<rect x="326.1" y="1070.5" width="10.5" height="10.5" fill="none" stroke="#77AC30" stroke-width="4.0"/>
<rect x="437.2" y="1161.7" width="12" height="12" fill="none" stroke="#77AC30" stroke-width="4.0"/>
<rect x="627.1" y="1207.2" width="14" height="14" fill="none" stroke="#77AC30" stroke-width="4.0"/>
<rect x="758" y="1224.5" width="18" height="18" fill="none" stroke="#77AC30" stroke-width="4.0"/>
<polyline points="140.8,1186.1 408.4,1225.8 627.7,1246.4 764.4,1256.7" fill="none" stroke="#000000" stroke-width="3.4" stroke-dasharray="16 14"/>
<rect x="135.4" y="1180.7" width="10.8" height="10.8" fill="none" stroke="#000000" stroke-width="4.0"/>
<rect x="402.4" y="1219.8" width="12" height="12" fill="none" stroke="#000000" stroke-width="4.0"/>
<rect x="620.2" y="1238.9" width="15" height="15" fill="none" stroke="#000000" stroke-width="4.0"/>
<rect x="754.9" y="1247.2" width="19" height="19" fill="none" stroke="#000000" stroke-width="4.0"/>
</g>
<text x="317.8" y="1021.1" font-family="'Liberation Sans', sans-serif" font-size="25.5" textLength="233.4" lengthAdjust="spacingAndGlyphs" fill="#000">increasing #epochs</text>
<path d="M518.1 1038.4H375.6" stroke="#000" stroke-width="3.8"/><path d="M356.1 1038.4L376.6 1028.4L376.6 1048.4Z" fill="#000"/>
<text x="562.5" y="1079.4" font-family="'Liberation Sans', sans-serif" font-size="25.5" textLength="214.5" lengthAdjust="spacingAndGlyphs" fill="#000">increasing FWHM</text>
<path d="M593.6 1096.8H736.2" stroke="#000" stroke-width="3.8" stroke-dasharray="16 14"/><path d="M756.7 1096.8L736.2 1086.8L736.2 1106.8Z" fill="#000"/>
<rect x="73.2" y="729.9" width="712.4" height="541.7" fill="none" stroke="#333" stroke-width="1.3"/>
<path d="M73.2 1271.6v-7M73.2 729.9v7M215.7 1271.6v-7M215.7 729.9v7M358.2 1271.6v-7M358.2 729.9v7M500.6 1271.6v-7M500.6 729.9v7M643.1 1271.6v-7M643.1 729.9v7M785.6 1271.6v-7M785.6 729.9v7M73.2 1271.6h7M785.6 1271.6h-7M73.2 1181.3h7M785.6 1181.3h-7M73.2 1091h7M785.6 1091h-7M73.2 1000.8h7M785.6 1000.8h-7M73.2 910.5h7M785.6 910.5h-7M73.2 820.2h7M785.6 820.2h-7M73.2 729.9h7M785.6 729.9h-7" stroke="#333" stroke-width="1.3" fill="none"/>
<text x="73.2" y="1300.6" text-anchor="middle" font-size="22" fill="#262626">0</text>
<text x="215.7" y="1300.6" text-anchor="middle" font-size="22" fill="#262626">5</text>
<text x="358.2" y="1300.6" text-anchor="middle" font-size="22" fill="#262626">10</text>
<text x="500.6" y="1300.6" text-anchor="middle" font-size="22" fill="#262626">15</text>
<text x="643.1" y="1300.6" text-anchor="middle" font-size="22" fill="#262626">20</text>
<text x="785.6" y="1300.6" text-anchor="middle" font-size="22" fill="#262626">25</text>
<text x="64.2" y="1279.4" text-anchor="end" font-size="22" fill="#262626">0</text>
<text x="64.2" y="1189.1" text-anchor="end" font-size="22" fill="#262626">10</text>
<text x="64.2" y="1098.8" text-anchor="end" font-size="22" fill="#262626">20</text>
<text x="64.2" y="1008.5" text-anchor="end" font-size="22" fill="#262626">30</text>
<text x="64.2" y="918.3" text-anchor="end" font-size="22" fill="#262626">40</text>
<text x="64.2" y="828" text-anchor="end" font-size="22" fill="#262626">50</text>
<text x="64.2" y="737.7" text-anchor="end" font-size="22" fill="#262626">60</text>
<text x="429.4" y="1334.6" text-anchor="middle" font-size="30" fill="#262626">Bias [%]</text>
<text transform="translate(23.2 1000.8) rotate(-90)" text-anchor="middle" font-size="30" fill="#262626">SD [%]</text>
<text x="314.6" y="719.9" font-family="'Liberation Sans', 'DejaVu Sans', sans-serif" font-weight="bold" font-size="34" textLength="246.8" lengthAdjust="spacingAndGlyphs" fill="#000">Frame 13 (FDG)</text>
<path d="M1088.5 729.9V1271.6M1177.7 729.9V1271.6M1266.8 729.9V1271.6M1355.9 729.9V1271.6M1445 729.9V1271.6M1534.2 729.9V1271.6M1623.3 729.9V1271.6M999.4 1194.2H1712.4M999.4 1116.8H1712.4M999.4 1039.4H1712.4M999.4 962.1H1712.4M999.4 884.7H1712.4M999.4 807.3H1712.4" stroke="#e3e3e3" stroke-width="1.2" fill="none"/>
<clipPath id="c4"><rect x="987.4" y="717.9" width="737" height="565.7"/></clipPath>
<g clip-path="url(#c4)">
<polyline points="1638.6,776.2 1596.7,893.3 1580.7,957.5 1531.8,983 1437.8,1030.9 1337.7,1048.5 1267.2,1057.1 1225.8,1064.7 1179.1,1069.9 1158,1071.4 1144.4,1069.2 1136.9,1064.7 1138.4,1060.1" fill="none" stroke="#FF00FF" stroke-width="3.4" stroke-linejoin="round"/>
<path d="M1630.1 776.2a8.5 8.5 0 1 0 17.0 0a8.5 8.5 0 1 0 -17.0 0M1588.2 893.3a8.5 8.5 0 1 0 17.0 0a8.5 8.5 0 1 0 -17.0 0M1572.2 957.5a8.5 8.5 0 1 0 17.0 0a8.5 8.5 0 1 0 -17.0 0M1523.3 983a8.5 8.5 0 1 0 17.0 0a8.5 8.5 0 1 0 -17.0 0M1429.3 1030.9a8.5 8.5 0 1 0 17.0 0a8.5 8.5 0 1 0 -17.0 0M1329.2 1048.5a8.5 8.5 0 1 0 17.0 0a8.5 8.5 0 1 0 -17.0 0M1258.7 1057.1a8.5 8.5 0 1 0 17.0 0a8.5 8.5 0 1 0 -17.0 0M1217.3 1064.7a8.5 8.5 0 1 0 17.0 0a8.5 8.5 0 1 0 -17.0 0M1170.6 1069.9a8.5 8.5 0 1 0 17.0 0a8.5 8.5 0 1 0 -17.0 0M1149.5 1071.4a8.5 8.5 0 1 0 17.0 0a8.5 8.5 0 1 0 -17.0 0M1135.9 1069.2a8.5 8.5 0 1 0 17.0 0a8.5 8.5 0 1 0 -17.0 0M1128.4 1064.7a8.5 8.5 0 1 0 17.0 0a8.5 8.5 0 1 0 -17.0 0M1129.9 1060.1a8.5 8.5 0 1 0 17.0 0a8.5 8.5 0 1 0 -17.0 0" fill="none" stroke="#FF00FF" stroke-width="3.5"/>
<polyline points="1115.8,1105.4 1120.3,1118.9 1135.4,1129.5 1156.5,1135.5 1185.1,1147.6 1203.2,1149.1 1235.6,1152.1 1277.8,1159.6 1360.1,1160.2 1397.7,1164 1432.8,1157.7 1482.9,1151.4" fill="none" stroke="#4DBEEE" stroke-width="3.4" stroke-linejoin="round"/>
<path d="M1107.3 1105.4a8.5 8.5 0 1 0 17.0 0a8.5 8.5 0 1 0 -17.0 0M1111.8 1118.9a8.5 8.5 0 1 0 17.0 0a8.5 8.5 0 1 0 -17.0 0M1126.9 1129.5a8.5 8.5 0 1 0 17.0 0a8.5 8.5 0 1 0 -17.0 0M1148 1135.5a8.5 8.5 0 1 0 17.0 0a8.5 8.5 0 1 0 -17.0 0M1176.6 1147.6a8.5 8.5 0 1 0 17.0 0a8.5 8.5 0 1 0 -17.0 0M1194.7 1149.1a8.5 8.5 0 1 0 17.0 0a8.5 8.5 0 1 0 -17.0 0M1227.1 1152.1a8.5 8.5 0 1 0 17.0 0a8.5 8.5 0 1 0 -17.0 0M1269.3 1159.6a8.5 8.5 0 1 0 17.0 0a8.5 8.5 0 1 0 -17.0 0M1351.6 1160.2a8.5 8.5 0 1 0 17.0 0a8.5 8.5 0 1 0 -17.0 0M1389.2 1164a8.5 8.5 0 1 0 17.0 0a8.5 8.5 0 1 0 -17.0 0M1424.3 1157.7a8.5 8.5 0 1 0 17.0 0a8.5 8.5 0 1 0 -17.0 0M1474.4 1151.4a8.5 8.5 0 1 0 17.0 0a8.5 8.5 0 1 0 -17.0 0" fill="none" stroke="#4DBEEE" stroke-width="3.5"/>
<polyline points="1110.5,1081.2 1106.7,1093.3 1099.2,1105.4 1095,1120 1093.2,1134 1088,1146 1085.6,1156.6 1084.1,1170.2 1088.6,1185.2 1100.7,1200.3 1112,1209 1123.3,1215.4 1141.4,1219.9 1164,1215.4 1192.6,1213.9 1205,1212" fill="none" stroke="#0000FF" stroke-width="3.4" stroke-linejoin="round"/>
<path d="M1102 1081.2a8.5 8.5 0 1 0 17.0 0a8.5 8.5 0 1 0 -17.0 0M1098.2 1093.3a8.5 8.5 0 1 0 17.0 0a8.5 8.5 0 1 0 -17.0 0M1090.7 1105.4a8.5 8.5 0 1 0 17.0 0a8.5 8.5 0 1 0 -17.0 0M1086.5 1120a8.5 8.5 0 1 0 17.0 0a8.5 8.5 0 1 0 -17.0 0M1084.7 1134a8.5 8.5 0 1 0 17.0 0a8.5 8.5 0 1 0 -17.0 0M1079.5 1146a8.5 8.5 0 1 0 17.0 0a8.5 8.5 0 1 0 -17.0 0M1077.1 1156.6a8.5 8.5 0 1 0 17.0 0a8.5 8.5 0 1 0 -17.0 0M1075.6 1170.2a8.5 8.5 0 1 0 17.0 0a8.5 8.5 0 1 0 -17.0 0M1080.1 1185.2a8.5 8.5 0 1 0 17.0 0a8.5 8.5 0 1 0 -17.0 0M1092.2 1200.3a8.5 8.5 0 1 0 17.0 0a8.5 8.5 0 1 0 -17.0 0M1103.5 1209a8.5 8.5 0 1 0 17.0 0a8.5 8.5 0 1 0 -17.0 0M1114.8 1215.4a8.5 8.5 0 1 0 17.0 0a8.5 8.5 0 1 0 -17.0 0M1132.9 1219.9a8.5 8.5 0 1 0 17.0 0a8.5 8.5 0 1 0 -17.0 0M1155.5 1215.4a8.5 8.5 0 1 0 17.0 0a8.5 8.5 0 1 0 -17.0 0M1184.1 1213.9a8.5 8.5 0 1 0 17.0 0a8.5 8.5 0 1 0 -17.0 0M1196.5 1212a8.5 8.5 0 1 0 17.0 0a8.5 8.5 0 1 0 -17.0 0" fill="none" stroke="#0000FF" stroke-width="3.5"/>
<polyline points="1097.7,1183.7 1109.7,1197.3 1123.3,1209.4 1138.4,1215.4 1150.4,1219.9 1188.1,1227.4 1221.3,1228.9 1268.7,1232 1336.3,1235.3 1432.8,1234.1 1486.6,1234.1 1549.2,1234.1 1638.1,1232.8" fill="none" stroke="#EDB120" stroke-width="3.4" stroke-linejoin="round"/>
<path d="M1089.2 1183.7a8.5 8.5 0 1 0 17.0 0a8.5 8.5 0 1 0 -17.0 0M1101.2 1197.3a8.5 8.5 0 1 0 17.0 0a8.5 8.5 0 1 0 -17.0 0M1114.8 1209.4a8.5 8.5 0 1 0 17.0 0a8.5 8.5 0 1 0 -17.0 0M1129.9 1215.4a8.5 8.5 0 1 0 17.0 0a8.5 8.5 0 1 0 -17.0 0M1141.9 1219.9a8.5 8.5 0 1 0 17.0 0a8.5 8.5 0 1 0 -17.0 0M1179.6 1227.4a8.5 8.5 0 1 0 17.0 0a8.5 8.5 0 1 0 -17.0 0M1212.8 1228.9a8.5 8.5 0 1 0 17.0 0a8.5 8.5 0 1 0 -17.0 0M1260.2 1232a8.5 8.5 0 1 0 17.0 0a8.5 8.5 0 1 0 -17.0 0M1327.8 1235.3a8.5 8.5 0 1 0 17.0 0a8.5 8.5 0 1 0 -17.0 0M1424.3 1234.1a8.5 8.5 0 1 0 17.0 0a8.5 8.5 0 1 0 -17.0 0M1478.1 1234.1a8.5 8.5 0 1 0 17.0 0a8.5 8.5 0 1 0 -17.0 0M1540.7 1234.1a8.5 8.5 0 1 0 17.0 0a8.5 8.5 0 1 0 -17.0 0M1629.6 1232.8a8.5 8.5 0 1 0 17.0 0a8.5 8.5 0 1 0 -17.0 0" fill="none" stroke="#EDB120" stroke-width="3.5"/>
<polyline points="1111.2,1090.3 1105.2,1102.3 1100.7,1114.4 1099.2,1129.5 1097.7,1147.6 1100.7,1165.6 1105.2,1182.2 1114.3,1189.8 1130.8,1195.8 1173,1200.3 1215.2,1203.3" fill="none" stroke="#00FF00" stroke-width="3.4" stroke-linejoin="round"/>
<path d="M1102.7 1090.3a8.5 8.5 0 1 0 17.0 0a8.5 8.5 0 1 0 -17.0 0M1096.7 1102.3a8.5 8.5 0 1 0 17.0 0a8.5 8.5 0 1 0 -17.0 0M1092.2 1114.4a8.5 8.5 0 1 0 17.0 0a8.5 8.5 0 1 0 -17.0 0M1090.7 1129.5a8.5 8.5 0 1 0 17.0 0a8.5 8.5 0 1 0 -17.0 0M1089.2 1147.6a8.5 8.5 0 1 0 17.0 0a8.5 8.5 0 1 0 -17.0 0M1092.2 1165.6a8.5 8.5 0 1 0 17.0 0a8.5 8.5 0 1 0 -17.0 0M1096.7 1182.2a8.5 8.5 0 1 0 17.0 0a8.5 8.5 0 1 0 -17.0 0M1105.8 1189.8a8.5 8.5 0 1 0 17.0 0a8.5 8.5 0 1 0 -17.0 0M1122.3 1195.8a8.5 8.5 0 1 0 17.0 0a8.5 8.5 0 1 0 -17.0 0M1164.5 1200.3a8.5 8.5 0 1 0 17.0 0a8.5 8.5 0 1 0 -17.0 0M1206.7 1203.3a8.5 8.5 0 1 0 17.0 0a8.5 8.5 0 1 0 -17.0 0" fill="none" stroke="#00FF00" stroke-width="3.5"/>
<polyline points="1115.8,1152.1 1123.3,1167.2 1129.3,1180.7 1139.9,1189.8 1155,1198.8 1188.1,1207.8 1213.7,1213.9 1251.4,1219.9 1308.8,1225.3 1402.7,1229.8 1462.8,1230.8 1538,1234.1 1625.6,1234.1" fill="none" stroke="#FF0000" stroke-width="3.4" stroke-linejoin="round"/>
<path d="M1107.3 1152.1a8.5 8.5 0 1 0 17.0 0a8.5 8.5 0 1 0 -17.0 0M1114.8 1167.2a8.5 8.5 0 1 0 17.0 0a8.5 8.5 0 1 0 -17.0 0M1120.8 1180.7a8.5 8.5 0 1 0 17.0 0a8.5 8.5 0 1 0 -17.0 0M1131.4 1189.8a8.5 8.5 0 1 0 17.0 0a8.5 8.5 0 1 0 -17.0 0M1146.5 1198.8a8.5 8.5 0 1 0 17.0 0a8.5 8.5 0 1 0 -17.0 0M1179.6 1207.8a8.5 8.5 0 1 0 17.0 0a8.5 8.5 0 1 0 -17.0 0M1205.2 1213.9a8.5 8.5 0 1 0 17.0 0a8.5 8.5 0 1 0 -17.0 0M1242.9 1219.9a8.5 8.5 0 1 0 17.0 0a8.5 8.5 0 1 0 -17.0 0M1300.3 1225.3a8.5 8.5 0 1 0 17.0 0a8.5 8.5 0 1 0 -17.0 0M1394.2 1229.8a8.5 8.5 0 1 0 17.0 0a8.5 8.5 0 1 0 -17.0 0M1454.3 1230.8a8.5 8.5 0 1 0 17.0 0a8.5 8.5 0 1 0 -17.0 0M1529.5 1234.1a8.5 8.5 0 1 0 17.0 0a8.5 8.5 0 1 0 -17.0 0M1617.1 1234.1a8.5 8.5 0 1 0 17.0 0a8.5 8.5 0 1 0 -17.0 0" fill="none" stroke="#FF0000" stroke-width="3.5"/>
<polyline points="1156.5,1051.9 1290.6,1164.9 1460.3,1215.3 1565.5,1235.3" fill="none" stroke="#77AC30" stroke-width="3.4" stroke-dasharray="16 14"/>
<rect x="1151.8" y="1047.2" width="9.5" height="9.5" fill="none" stroke="#77AC30" stroke-width="4.0"/>
<rect x="1285.1" y="1159.4" width="11" height="11" fill="none" stroke="#77AC30" stroke-width="4.0"/>
<rect x="1453.3" y="1208.3" width="14" height="14" fill="none" stroke="#77AC30" stroke-width="4.0"/>
<rect x="1557" y="1226.8" width="17" height="17" fill="none" stroke="#77AC30" stroke-width="4.0"/>
<polyline points="1173.8,1054.1 1301.1,1163.4 1460.3,1215.3 1568,1236.6" fill="none" stroke="#000000" stroke-width="3.4" stroke-dasharray="16 14"/>
<rect x="1168.8" y="1049.1" width="10" height="10" fill="none" stroke="#000000" stroke-width="4.0"/>
<rect x="1294.6" y="1156.9" width="13" height="13" fill="none" stroke="#000000" stroke-width="4.0"/>
<rect x="1453.3" y="1208.3" width="14" height="14" fill="none" stroke="#000000" stroke-width="4.0"/>
<rect x="1559" y="1227.6" width="18" height="18" fill="none" stroke="#000000" stroke-width="4.0"/>
</g>
<text x="1311.3" y="1086.3" font-family="'Liberation Sans', sans-serif" font-size="25.5" textLength="233.7" lengthAdjust="spacingAndGlyphs" fill="#000">increasing #epochs</text>
<path d="M1511.7 1103.3H1369.6" stroke="#000" stroke-width="3.8"/><path d="M1350.1 1103.3L1370.6 1093.3L1370.6 1113.3Z" fill="#000"/>
<text x="1489.1" y="1187.7" font-family="'Liberation Sans', sans-serif" font-size="25.5" textLength="215.4" lengthAdjust="spacingAndGlyphs" fill="#000">increasing FWHM</text>
<path d="M1521.7 1204.5H1662.7" stroke="#000" stroke-width="3.8" stroke-dasharray="16 14"/><path d="M1683.2 1204.5L1662.7 1194.5L1662.7 1214.5Z" fill="#000"/>
<rect x="999.4" y="729.9" width="713" height="541.7" fill="none" stroke="#333" stroke-width="1.3"/>
<path d="M999.4 1271.6v-7M999.4 729.9v7M1088.5 1271.6v-7M1088.5 729.9v7M1177.7 1271.6v-7M1177.7 729.9v7M1266.8 1271.6v-7M1266.8 729.9v7M1355.9 1271.6v-7M1355.9 729.9v7M1445 1271.6v-7M1445 729.9v7M1534.2 1271.6v-7M1534.2 729.9v7M1623.3 1271.6v-7M1623.3 729.9v7M1712.4 1271.6v-7M1712.4 729.9v7M999.4 1271.6h7M1712.4 1271.6h-7M999.4 1194.2h7M1712.4 1194.2h-7M999.4 1116.8h7M1712.4 1116.8h-7M999.4 1039.4h7M1712.4 1039.4h-7M999.4 962.1h7M1712.4 962.1h-7M999.4 884.7h7M1712.4 884.7h-7M999.4 807.3h7M1712.4 807.3h-7M999.4 729.9h7M1712.4 729.9h-7" stroke="#333" stroke-width="1.3" fill="none"/>
<text x="999.4" y="1300.6" text-anchor="middle" font-size="22" fill="#262626">0</text>
<text x="1088.5" y="1300.6" text-anchor="middle" font-size="22" fill="#262626">5</text>
<text x="1177.7" y="1300.6" text-anchor="middle" font-size="22" fill="#262626">10</text>
<text x="1266.8" y="1300.6" text-anchor="middle" font-size="22" fill="#262626">15</text>
<text x="1355.9" y="1300.6" text-anchor="middle" font-size="22" fill="#262626">20</text>
<text x="1445" y="1300.6" text-anchor="middle" font-size="22" fill="#262626">25</text>
<text x="1534.2" y="1300.6" text-anchor="middle" font-size="22" fill="#262626">30</text>
<text x="1623.3" y="1300.6" text-anchor="middle" font-size="22" fill="#262626">35</text>
<text x="1712.4" y="1300.6" text-anchor="middle" font-size="22" fill="#262626">40</text>
<text x="990.4" y="1279.4" text-anchor="end" font-size="22" fill="#262626">0</text>
<text x="990.4" y="1202" text-anchor="end" font-size="22" fill="#262626">10</text>
<text x="990.4" y="1124.6" text-anchor="end" font-size="22" fill="#262626">20</text>
<text x="990.4" y="1047.2" text-anchor="end" font-size="22" fill="#262626">30</text>
<text x="990.4" y="969.9" text-anchor="end" font-size="22" fill="#262626">40</text>
<text x="990.4" y="892.5" text-anchor="end" font-size="22" fill="#262626">50</text>
<text x="990.4" y="815.1" text-anchor="end" font-size="22" fill="#262626">60</text>
<text x="990.4" y="737.7" text-anchor="end" font-size="22" fill="#262626">70</text>
<text x="1355.9" y="1334.6" text-anchor="middle" font-size="30" fill="#262626">Bias [%]</text>
<text transform="translate(949.4 1000.8) rotate(-90)" text-anchor="middle" font-size="30" fill="#262626">SD [%]</text>
<text x="1241.7" y="719.9" font-family="'Liberation Sans', 'DejaVu Sans', sans-serif" font-weight="bold" font-size="34" textLength="251.3" lengthAdjust="spacingAndGlyphs" fill="#000">Frame 13 (MET)</text>
<path d="M215.7 1422.1V1963.8M358.2 1422.1V1963.8M500.6 1422.1V1963.8M643.1 1422.1V1963.8M73.2 1873.5H785.6M73.2 1783.2H785.6M73.2 1692.9H785.6M73.2 1602.7H785.6M73.2 1512.4H785.6" stroke="#e3e3e3" stroke-width="1.2" fill="none"/>
<clipPath id="c5"><rect x="61.2" y="1410.1" width="736.4" height="565.7"/></clipPath>
<g clip-path="url(#c5)">
<polyline points="659.5,1457.3 719.7,1474.1 744.8,1506.3 666,1542.6 461,1613.4 325.9,1661 292.7,1700.3 288.9,1725.4 287.3,1750.1 311,1768.4 299.7,1774.9 277.8,1778.1 264,1774.1" fill="none" stroke="#FF00FF" stroke-width="3.4" stroke-linejoin="round"/>
<path d="M651 1457.3a8.5 8.5 0 1 0 17.0 0a8.5 8.5 0 1 0 -17.0 0M711.2 1474.1a8.5 8.5 0 1 0 17.0 0a8.5 8.5 0 1 0 -17.0 0M736.3 1506.3a8.5 8.5 0 1 0 17.0 0a8.5 8.5 0 1 0 -17.0 0M657.5 1542.6a8.5 8.5 0 1 0 17.0 0a8.5 8.5 0 1 0 -17.0 0M452.5 1613.4a8.5 8.5 0 1 0 17.0 0a8.5 8.5 0 1 0 -17.0 0M317.4 1661a8.5 8.5 0 1 0 17.0 0a8.5 8.5 0 1 0 -17.0 0M284.2 1700.3a8.5 8.5 0 1 0 17.0 0a8.5 8.5 0 1 0 -17.0 0M280.4 1725.4a8.5 8.5 0 1 0 17.0 0a8.5 8.5 0 1 0 -17.0 0M278.8 1750.1a8.5 8.5 0 1 0 17.0 0a8.5 8.5 0 1 0 -17.0 0M302.5 1768.4a8.5 8.5 0 1 0 17.0 0a8.5 8.5 0 1 0 -17.0 0M291.2 1774.9a8.5 8.5 0 1 0 17.0 0a8.5 8.5 0 1 0 -17.0 0M269.3 1778.1a8.5 8.5 0 1 0 17.0 0a8.5 8.5 0 1 0 -17.0 0M255.5 1774.1a8.5 8.5 0 1 0 17.0 0a8.5 8.5 0 1 0 -17.0 0" fill="none" stroke="#FF00FF" stroke-width="3.5"/>
<polyline points="241.2,1804.1 258.3,1809.8 307.8,1812.2 325.6,1810.6 361.4,1805.1 381.5,1801.5 386.6,1795.2 439.5,1801.5 466,1796.5 492.5,1791.4 546.7,1796.5 603.4,1783.9" fill="none" stroke="#4DBEEE" stroke-width="3.4" stroke-linejoin="round"/>
<path d="M232.7 1804.1a8.5 8.5 0 1 0 17.0 0a8.5 8.5 0 1 0 -17.0 0M249.8 1809.8a8.5 8.5 0 1 0 17.0 0a8.5 8.5 0 1 0 -17.0 0M299.3 1812.2a8.5 8.5 0 1 0 17.0 0a8.5 8.5 0 1 0 -17.0 0M317.1 1810.6a8.5 8.5 0 1 0 17.0 0a8.5 8.5 0 1 0 -17.0 0M352.9 1805.1a8.5 8.5 0 1 0 17.0 0a8.5 8.5 0 1 0 -17.0 0M373 1801.5a8.5 8.5 0 1 0 17.0 0a8.5 8.5 0 1 0 -17.0 0M378.1 1795.2a8.5 8.5 0 1 0 17.0 0a8.5 8.5 0 1 0 -17.0 0M431 1801.5a8.5 8.5 0 1 0 17.0 0a8.5 8.5 0 1 0 -17.0 0M457.5 1796.5a8.5 8.5 0 1 0 17.0 0a8.5 8.5 0 1 0 -17.0 0M484 1791.4a8.5 8.5 0 1 0 17.0 0a8.5 8.5 0 1 0 -17.0 0M538.2 1796.5a8.5 8.5 0 1 0 17.0 0a8.5 8.5 0 1 0 -17.0 0M594.9 1783.9a8.5 8.5 0 1 0 17.0 0a8.5 8.5 0 1 0 -17.0 0" fill="none" stroke="#4DBEEE" stroke-width="3.5"/>
<polyline points="216.9,1814.7 212,1828.5 204.7,1845.5 199.8,1860.1 197.4,1868.2 216.9,1882.9 249.4,1890.2 281,1895.8 326.5,1899.1 379,1898.6 409.3,1897.3 466,1892.3 512.6,1880.9" fill="none" stroke="#0000FF" stroke-width="3.4" stroke-linejoin="round"/>
<path d="M208.4 1814.7a8.5 8.5 0 1 0 17.0 0a8.5 8.5 0 1 0 -17.0 0M203.5 1828.5a8.5 8.5 0 1 0 17.0 0a8.5 8.5 0 1 0 -17.0 0M196.2 1845.5a8.5 8.5 0 1 0 17.0 0a8.5 8.5 0 1 0 -17.0 0M191.3 1860.1a8.5 8.5 0 1 0 17.0 0a8.5 8.5 0 1 0 -17.0 0M188.9 1868.2a8.5 8.5 0 1 0 17.0 0a8.5 8.5 0 1 0 -17.0 0M208.4 1882.9a8.5 8.5 0 1 0 17.0 0a8.5 8.5 0 1 0 -17.0 0M240.9 1890.2a8.5 8.5 0 1 0 17.0 0a8.5 8.5 0 1 0 -17.0 0M272.5 1895.8a8.5 8.5 0 1 0 17.0 0a8.5 8.5 0 1 0 -17.0 0M318 1899.1a8.5 8.5 0 1 0 17.0 0a8.5 8.5 0 1 0 -17.0 0M370.5 1898.6a8.5 8.5 0 1 0 17.0 0a8.5 8.5 0 1 0 -17.0 0M400.8 1897.3a8.5 8.5 0 1 0 17.0 0a8.5 8.5 0 1 0 -17.0 0M457.5 1892.3a8.5 8.5 0 1 0 17.0 0a8.5 8.5 0 1 0 -17.0 0M504.1 1880.9a8.5 8.5 0 1 0 17.0 0a8.5 8.5 0 1 0 -17.0 0" fill="none" stroke="#0000FF" stroke-width="3.5"/>
<polyline points="189.3,1839 186,1851.2 176.3,1863.4 174.7,1871.5 176,1876 179.5,1879.6 190,1882 202.3,1881.2 226.6,1876.4 265.6,1874.7 321.6,1870.7 428.2,1863.3 498.8,1857 585.8,1843.1 685.4,1831.8" fill="none" stroke="#EDB120" stroke-width="3.4" stroke-linejoin="round"/>
<path d="M180.8 1839a8.5 8.5 0 1 0 17.0 0a8.5 8.5 0 1 0 -17.0 0M177.5 1851.2a8.5 8.5 0 1 0 17.0 0a8.5 8.5 0 1 0 -17.0 0M167.8 1863.4a8.5 8.5 0 1 0 17.0 0a8.5 8.5 0 1 0 -17.0 0M166.2 1871.5a8.5 8.5 0 1 0 17.0 0a8.5 8.5 0 1 0 -17.0 0M167.5 1876a8.5 8.5 0 1 0 17.0 0a8.5 8.5 0 1 0 -17.0 0M171 1879.6a8.5 8.5 0 1 0 17.0 0a8.5 8.5 0 1 0 -17.0 0M181.5 1882a8.5 8.5 0 1 0 17.0 0a8.5 8.5 0 1 0 -17.0 0M193.8 1881.2a8.5 8.5 0 1 0 17.0 0a8.5 8.5 0 1 0 -17.0 0M218.1 1876.4a8.5 8.5 0 1 0 17.0 0a8.5 8.5 0 1 0 -17.0 0M257.1 1874.7a8.5 8.5 0 1 0 17.0 0a8.5 8.5 0 1 0 -17.0 0M313.1 1870.7a8.5 8.5 0 1 0 17.0 0a8.5 8.5 0 1 0 -17.0 0M419.7 1863.3a8.5 8.5 0 1 0 17.0 0a8.5 8.5 0 1 0 -17.0 0M490.3 1857a8.5 8.5 0 1 0 17.0 0a8.5 8.5 0 1 0 -17.0 0M577.3 1843.1a8.5 8.5 0 1 0 17.0 0a8.5 8.5 0 1 0 -17.0 0M676.9 1831.8a8.5 8.5 0 1 0 17.0 0a8.5 8.5 0 1 0 -17.0 0" fill="none" stroke="#EDB120" stroke-width="3.5"/>
<polyline points="122,1898 123,1900 125,1899 124.4,1899.1 145.5,1902.3 166.6,1904" fill="none" stroke="#00FF00" stroke-width="3.4" stroke-linejoin="round"/>
<path d="M113.5 1898a8.5 8.5 0 1 0 17.0 0a8.5 8.5 0 1 0 -17.0 0M114.5 1900a8.5 8.5 0 1 0 17.0 0a8.5 8.5 0 1 0 -17.0 0M116.5 1899a8.5 8.5 0 1 0 17.0 0a8.5 8.5 0 1 0 -17.0 0M115.9 1899.1a8.5 8.5 0 1 0 17.0 0a8.5 8.5 0 1 0 -17.0 0M137 1902.3a8.5 8.5 0 1 0 17.0 0a8.5 8.5 0 1 0 -17.0 0M158.1 1904a8.5 8.5 0 1 0 17.0 0a8.5 8.5 0 1 0 -17.0 0" fill="none" stroke="#00FF00" stroke-width="3.5"/>
<ellipse cx="125" cy="1899.5" rx="13.5" ry="12.5" fill="#00FF00"/>
<polyline points="126,1899 127,1901 128.4,1900.7 145.5,1902.3 166.6,1904 202.3,1906.4 261.5,1912.1 345.9,1920.2 404.2,1923.8 502.5,1926.3 655.1,1933.9" fill="none" stroke="#FF0000" stroke-width="3.4" stroke-linejoin="round"/>
<path d="M117.5 1899a8.5 8.5 0 1 0 17.0 0a8.5 8.5 0 1 0 -17.0 0M118.5 1901a8.5 8.5 0 1 0 17.0 0a8.5 8.5 0 1 0 -17.0 0M119.9 1900.7a8.5 8.5 0 1 0 17.0 0a8.5 8.5 0 1 0 -17.0 0M137 1902.3a8.5 8.5 0 1 0 17.0 0a8.5 8.5 0 1 0 -17.0 0M158.1 1904a8.5 8.5 0 1 0 17.0 0a8.5 8.5 0 1 0 -17.0 0M193.8 1906.4a8.5 8.5 0 1 0 17.0 0a8.5 8.5 0 1 0 -17.0 0M253 1912.1a8.5 8.5 0 1 0 17.0 0a8.5 8.5 0 1 0 -17.0 0M337.4 1920.2a8.5 8.5 0 1 0 17.0 0a8.5 8.5 0 1 0 -17.0 0M395.7 1923.8a8.5 8.5 0 1 0 17.0 0a8.5 8.5 0 1 0 -17.0 0M494 1926.3a8.5 8.5 0 1 0 17.0 0a8.5 8.5 0 1 0 -17.0 0M646.6 1933.9a8.5 8.5 0 1 0 17.0 0a8.5 8.5 0 1 0 -17.0 0" fill="none" stroke="#FF0000" stroke-width="3.5"/>
<ellipse cx="127.5" cy="1900" rx="11" ry="11.5" fill="#FF0000"/>
<polyline points="415,1693.8 450.9,1805.3 621.1,1862 747.1,1889.8" fill="none" stroke="#77AC30" stroke-width="3.4" stroke-dasharray="16 14"/>
<rect x="410.5" y="1689.3" width="9" height="9" fill="none" stroke="#77AC30" stroke-width="4.0"/>
<rect x="444.9" y="1799.3" width="12" height="12" fill="none" stroke="#77AC30" stroke-width="4.0"/>
<rect x="614.1" y="1855" width="14" height="14" fill="none" stroke="#77AC30" stroke-width="4.0"/>
<rect x="738.1" y="1880.8" width="18" height="18" fill="none" stroke="#77AC30" stroke-width="4.0"/>
<polyline points="134.1,1889.4 399.2,1923.8 612.2,1941.5 744.6,1949" fill="none" stroke="#000000" stroke-width="3.4" stroke-dasharray="16 14"/>
<rect x="129.6" y="1884.9" width="9" height="9" fill="none" stroke="#000000" stroke-width="4.0"/>
<rect x="393.9" y="1918.5" width="10.5" height="10.5" fill="none" stroke="#000000" stroke-width="4.0"/>
<rect x="605.2" y="1934.5" width="14" height="14" fill="none" stroke="#000000" stroke-width="4.0"/>
<rect x="735.6" y="1940" width="18" height="18" fill="none" stroke="#000000" stroke-width="4.0"/>
</g>
<text x="398.9" y="1656.8" font-family="'Liberation Sans', sans-serif" font-size="25.5" textLength="232.6" lengthAdjust="spacingAndGlyphs" fill="#000">increasing #epochs</text>
<path d="M598.4 1673.9H455.4" stroke="#000" stroke-width="3.8"/><path d="M435.9 1673.9L456.4 1663.9L456.4 1683.9Z" fill="#000"/>
<text x="563.0" y="1746.9" font-family="'Liberation Sans', sans-serif" font-size="25.5" textLength="214.0" lengthAdjust="spacingAndGlyphs" fill="#000">increasing FWHM</text>
<path d="M593.6 1763.0H735.6" stroke="#000" stroke-width="3.8" stroke-dasharray="16 14"/><path d="M756.1 1763.0L735.6 1753.0L735.6 1773.0Z" fill="#000"/>
<rect x="73.2" y="1422.1" width="712.4" height="541.7" fill="none" stroke="#333" stroke-width="1.3"/>
<path d="M73.2 1963.8v-7M73.2 1422.1v7M215.7 1963.8v-7M215.7 1422.1v7M358.2 1963.8v-7M358.2 1422.1v7M500.6 1963.8v-7M500.6 1422.1v7M643.1 1963.8v-7M643.1 1422.1v7M785.6 1963.8v-7M785.6 1422.1v7M73.2 1963.8h7M785.6 1963.8h-7M73.2 1873.5h7M785.6 1873.5h-7M73.2 1783.2h7M785.6 1783.2h-7M73.2 1692.9h7M785.6 1692.9h-7M73.2 1602.7h7M785.6 1602.7h-7M73.2 1512.4h7M785.6 1512.4h-7M73.2 1422.1h7M785.6 1422.1h-7" stroke="#333" stroke-width="1.3" fill="none"/>
<text x="73.2" y="1992.8" text-anchor="middle" font-size="22" fill="#262626">0</text>
<text x="215.7" y="1992.8" text-anchor="middle" font-size="22" fill="#262626">5</text>
<text x="358.2" y="1992.8" text-anchor="middle" font-size="22" fill="#262626">10</text>
<text x="500.6" y="1992.8" text-anchor="middle" font-size="22" fill="#262626">15</text>
<text x="643.1" y="1992.8" text-anchor="middle" font-size="22" fill="#262626">20</text>
<text x="785.6" y="1992.8" text-anchor="middle" font-size="22" fill="#262626">25</text>
<text x="64.2" y="1971.6" text-anchor="end" font-size="22" fill="#262626">0</text>
<text x="64.2" y="1881.3" text-anchor="end" font-size="22" fill="#262626">10</text>
<text x="64.2" y="1791" text-anchor="end" font-size="22" fill="#262626">20</text>
<text x="64.2" y="1700.7" text-anchor="end" font-size="22" fill="#262626">30</text>
<text x="64.2" y="1610.5" text-anchor="end" font-size="22" fill="#262626">40</text>
<text x="64.2" y="1520.2" text-anchor="end" font-size="22" fill="#262626">50</text>
<text x="64.2" y="1429.9" text-anchor="end" font-size="22" fill="#262626">60</text>
<text x="429.4" y="2026.8" text-anchor="middle" font-size="30" fill="#262626">Bias [%]</text>
<text transform="translate(23.2 1692.9) rotate(-90)" text-anchor="middle" font-size="30" fill="#262626">SD [%]</text>
<text x="312.7" y="1412.3" font-family="'Liberation Sans', 'DejaVu Sans', sans-serif" font-weight="bold" font-size="34" textLength="249" lengthAdjust="spacingAndGlyphs" fill="#000">Frame 21 (FDG)</text>
<path d="M1088.4 1422.1V1963.8M1177.5 1422.1V1963.8M1266.6 1422.1V1963.8M1355.7 1422.1V1963.8M1444.7 1422.1V1963.8M1533.8 1422.1V1963.8M1622.9 1422.1V1963.8M999.3 1903.6H1712M999.3 1843.4H1712M999.3 1783.2H1712M999.3 1723H1712M999.3 1662.9H1712M999.3 1602.7H1712M999.3 1542.5H1712M999.3 1482.3H1712" stroke="#e3e3e3" stroke-width="1.2" fill="none"/>
<clipPath id="c6"><rect x="987.3" y="1410.1" width="736.7" height="565.7"/></clipPath>
<g clip-path="url(#c6)">
<polyline points="1339.5,1427.3 1312.5,1491.8 1302.3,1531.5 1282.8,1573.9 1191.5,1634.8 1136.7,1683 1119.7,1714.6 1116.5,1736.5 1115.5,1759.7 1117.2,1776.7 1112,1774.8 1105,1774.3" fill="none" stroke="#FF00FF" stroke-width="3.4" stroke-linejoin="round"/>
<path d="M1331 1427.3a8.5 8.5 0 1 0 17.0 0a8.5 8.5 0 1 0 -17.0 0M1304 1491.8a8.5 8.5 0 1 0 17.0 0a8.5 8.5 0 1 0 -17.0 0M1293.8 1531.5a8.5 8.5 0 1 0 17.0 0a8.5 8.5 0 1 0 -17.0 0M1274.3 1573.9a8.5 8.5 0 1 0 17.0 0a8.5 8.5 0 1 0 -17.0 0M1183 1634.8a8.5 8.5 0 1 0 17.0 0a8.5 8.5 0 1 0 -17.0 0M1128.2 1683a8.5 8.5 0 1 0 17.0 0a8.5 8.5 0 1 0 -17.0 0M1111.2 1714.6a8.5 8.5 0 1 0 17.0 0a8.5 8.5 0 1 0 -17.0 0M1108 1736.5a8.5 8.5 0 1 0 17.0 0a8.5 8.5 0 1 0 -17.0 0M1107 1759.7a8.5 8.5 0 1 0 17.0 0a8.5 8.5 0 1 0 -17.0 0M1108.7 1776.7a8.5 8.5 0 1 0 17.0 0a8.5 8.5 0 1 0 -17.0 0M1103.5 1774.8a8.5 8.5 0 1 0 17.0 0a8.5 8.5 0 1 0 -17.0 0M1096.5 1774.3a8.5 8.5 0 1 0 17.0 0a8.5 8.5 0 1 0 -17.0 0" fill="none" stroke="#FF00FF" stroke-width="3.5"/>
<polyline points="1074,1804.5 1089.8,1819.4 1105.5,1821.2 1124.1,1824 1150.1,1824 1165.8,1823.1 1195.5,1817.5 1217.8,1818.4 1279.9,1821.2 1309.6,1817.6 1345.4,1800.9 1399.1,1791.3" fill="none" stroke="#4DBEEE" stroke-width="3.4" stroke-linejoin="round"/>
<path d="M1065.5 1804.5a8.5 8.5 0 1 0 17.0 0a8.5 8.5 0 1 0 -17.0 0M1081.3 1819.4a8.5 8.5 0 1 0 17.0 0a8.5 8.5 0 1 0 -17.0 0M1097 1821.2a8.5 8.5 0 1 0 17.0 0a8.5 8.5 0 1 0 -17.0 0M1115.6 1824a8.5 8.5 0 1 0 17.0 0a8.5 8.5 0 1 0 -17.0 0M1141.6 1824a8.5 8.5 0 1 0 17.0 0a8.5 8.5 0 1 0 -17.0 0M1157.3 1823.1a8.5 8.5 0 1 0 17.0 0a8.5 8.5 0 1 0 -17.0 0M1187 1817.5a8.5 8.5 0 1 0 17.0 0a8.5 8.5 0 1 0 -17.0 0M1209.3 1818.4a8.5 8.5 0 1 0 17.0 0a8.5 8.5 0 1 0 -17.0 0M1271.4 1821.2a8.5 8.5 0 1 0 17.0 0a8.5 8.5 0 1 0 -17.0 0M1301.1 1817.6a8.5 8.5 0 1 0 17.0 0a8.5 8.5 0 1 0 -17.0 0M1336.9 1800.9a8.5 8.5 0 1 0 17.0 0a8.5 8.5 0 1 0 -17.0 0M1390.6 1791.3a8.5 8.5 0 1 0 17.0 0a8.5 8.5 0 1 0 -17.0 0" fill="none" stroke="#4DBEEE" stroke-width="3.5"/>
<polyline points="1073.1,1813.8 1071.2,1823.1 1067.5,1834.2 1062,1847.2 1056.4,1860.2 1062,1876 1075,1888 1091.6,1891.7 1107.4,1897.3 1138,1899.1 1158.4,1899.1 1182.5,1897.3 1231.7,1886.2" fill="none" stroke="#0000FF" stroke-width="3.4" stroke-linejoin="round"/>
<path d="M1064.6 1813.8a8.5 8.5 0 1 0 17.0 0a8.5 8.5 0 1 0 -17.0 0M1062.7 1823.1a8.5 8.5 0 1 0 17.0 0a8.5 8.5 0 1 0 -17.0 0M1059 1834.2a8.5 8.5 0 1 0 17.0 0a8.5 8.5 0 1 0 -17.0 0M1053.5 1847.2a8.5 8.5 0 1 0 17.0 0a8.5 8.5 0 1 0 -17.0 0M1047.9 1860.2a8.5 8.5 0 1 0 17.0 0a8.5 8.5 0 1 0 -17.0 0M1053.5 1876a8.5 8.5 0 1 0 17.0 0a8.5 8.5 0 1 0 -17.0 0M1066.5 1888a8.5 8.5 0 1 0 17.0 0a8.5 8.5 0 1 0 -17.0 0M1083.1 1891.7a8.5 8.5 0 1 0 17.0 0a8.5 8.5 0 1 0 -17.0 0M1098.9 1897.3a8.5 8.5 0 1 0 17.0 0a8.5 8.5 0 1 0 -17.0 0M1129.5 1899.1a8.5 8.5 0 1 0 17.0 0a8.5 8.5 0 1 0 -17.0 0M1149.9 1899.1a8.5 8.5 0 1 0 17.0 0a8.5 8.5 0 1 0 -17.0 0M1174 1897.3a8.5 8.5 0 1 0 17.0 0a8.5 8.5 0 1 0 -17.0 0M1223.2 1886.2a8.5 8.5 0 1 0 17.0 0a8.5 8.5 0 1 0 -17.0 0" fill="none" stroke="#0000FF" stroke-width="3.5"/>
<polyline points="1067.5,1830.5 1065.7,1843.5 1064,1856 1063.8,1869.5 1086.1,1871.3 1113.9,1871.3 1154.7,1871.3 1217.8,1869.5 1311.9,1870.2 1371.7,1866.6 1467.2,1858.2 1624.8,1853.4" fill="none" stroke="#EDB120" stroke-width="3.4" stroke-linejoin="round"/>
<path d="M1059 1830.5a8.5 8.5 0 1 0 17.0 0a8.5 8.5 0 1 0 -17.0 0M1057.2 1843.5a8.5 8.5 0 1 0 17.0 0a8.5 8.5 0 1 0 -17.0 0M1055.5 1856a8.5 8.5 0 1 0 17.0 0a8.5 8.5 0 1 0 -17.0 0M1055.3 1869.5a8.5 8.5 0 1 0 17.0 0a8.5 8.5 0 1 0 -17.0 0M1077.6 1871.3a8.5 8.5 0 1 0 17.0 0a8.5 8.5 0 1 0 -17.0 0M1105.4 1871.3a8.5 8.5 0 1 0 17.0 0a8.5 8.5 0 1 0 -17.0 0M1146.2 1871.3a8.5 8.5 0 1 0 17.0 0a8.5 8.5 0 1 0 -17.0 0M1209.3 1869.5a8.5 8.5 0 1 0 17.0 0a8.5 8.5 0 1 0 -17.0 0M1303.4 1870.2a8.5 8.5 0 1 0 17.0 0a8.5 8.5 0 1 0 -17.0 0M1363.2 1866.6a8.5 8.5 0 1 0 17.0 0a8.5 8.5 0 1 0 -17.0 0M1458.7 1858.2a8.5 8.5 0 1 0 17.0 0a8.5 8.5 0 1 0 -17.0 0M1616.3 1853.4a8.5 8.5 0 1 0 17.0 0a8.5 8.5 0 1 0 -17.0 0" fill="none" stroke="#EDB120" stroke-width="3.5"/>
<polyline points="1038,1876 1040,1878 1042,1877 1045.3,1880.6 1065.7,1882.4 1084.2,1882.4" fill="none" stroke="#00FF00" stroke-width="3.4" stroke-linejoin="round"/>
<path d="M1029.5 1876a8.5 8.5 0 1 0 17.0 0a8.5 8.5 0 1 0 -17.0 0M1031.5 1878a8.5 8.5 0 1 0 17.0 0a8.5 8.5 0 1 0 -17.0 0M1033.5 1877a8.5 8.5 0 1 0 17.0 0a8.5 8.5 0 1 0 -17.0 0M1036.8 1880.6a8.5 8.5 0 1 0 17.0 0a8.5 8.5 0 1 0 -17.0 0M1057.2 1882.4a8.5 8.5 0 1 0 17.0 0a8.5 8.5 0 1 0 -17.0 0M1075.7 1882.4a8.5 8.5 0 1 0 17.0 0a8.5 8.5 0 1 0 -17.0 0" fill="none" stroke="#00FF00" stroke-width="3.5"/>
<ellipse cx="1040" cy="1880" rx="16" ry="16" fill="#00FF00"/>
<polyline points="1038.5,1874 1039.7,1875 1041,1876.5 1043,1875.5 1065.7,1882.4 1103.7,1883.4 1193.7,1892.7 1250.3,1898.2 1322.7,1903.6 1448.1,1908.4" fill="none" stroke="#FF0000" stroke-width="3.4" stroke-linejoin="round"/>
<path d="M1030 1874a8.5 8.5 0 1 0 17.0 0a8.5 8.5 0 1 0 -17.0 0M1031.2 1875a8.5 8.5 0 1 0 17.0 0a8.5 8.5 0 1 0 -17.0 0M1032.5 1876.5a8.5 8.5 0 1 0 17.0 0a8.5 8.5 0 1 0 -17.0 0M1034.5 1875.5a8.5 8.5 0 1 0 17.0 0a8.5 8.5 0 1 0 -17.0 0M1057.2 1882.4a8.5 8.5 0 1 0 17.0 0a8.5 8.5 0 1 0 -17.0 0M1095.2 1883.4a8.5 8.5 0 1 0 17.0 0a8.5 8.5 0 1 0 -17.0 0M1185.2 1892.7a8.5 8.5 0 1 0 17.0 0a8.5 8.5 0 1 0 -17.0 0M1241.8 1898.2a8.5 8.5 0 1 0 17.0 0a8.5 8.5 0 1 0 -17.0 0M1314.2 1903.6a8.5 8.5 0 1 0 17.0 0a8.5 8.5 0 1 0 -17.0 0M1439.6 1908.4a8.5 8.5 0 1 0 17.0 0a8.5 8.5 0 1 0 -17.0 0" fill="none" stroke="#FF0000" stroke-width="3.5"/>
<ellipse cx="1041.5" cy="1877" rx="13" ry="13.5" fill="#FF0000"/>
<ellipse cx="1049" cy="1882" rx="9" ry="9" fill="#FF0000"/>
<polyline points="1168.4,1709.7 1275.3,1818.4 1467.2,1874.9 1578.2,1902.4" fill="none" stroke="#77AC30" stroke-width="3.4" stroke-dasharray="16 14"/>
<rect x="1163.4" y="1704.7" width="10" height="10" fill="none" stroke="#77AC30" stroke-width="4.0"/>
<rect x="1269.3" y="1812.4" width="12" height="12" fill="none" stroke="#77AC30" stroke-width="4.0"/>
<rect x="1460.2" y="1867.9" width="14" height="14" fill="none" stroke="#77AC30" stroke-width="4.0"/>
<rect x="1569.2" y="1893.4" width="18" height="18" fill="none" stroke="#77AC30" stroke-width="4.0"/>
<polyline points="1057.3,1858.3 1284.6,1911.2 1473.2,1934.6 1581.8,1945.4" fill="none" stroke="#000000" stroke-width="3.4" stroke-dasharray="16 14"/>
<rect x="1052.5" y="1853.5" width="9.5" height="9.5" fill="none" stroke="#000000" stroke-width="4.0"/>
<rect x="1278.1" y="1904.7" width="13" height="13" fill="none" stroke="#000000" stroke-width="4.0"/>
<rect x="1466.2" y="1927.6" width="14" height="14" fill="none" stroke="#000000" stroke-width="4.0"/>
<rect x="1572.8" y="1936.4" width="18" height="18" fill="none" stroke="#000000" stroke-width="4.0"/>
</g>
<text x="1220.7" y="1646.4" font-family="'Liberation Sans', sans-serif" font-size="25.5" textLength="232.5" lengthAdjust="spacingAndGlyphs" fill="#000">increasing #epochs</text>
<path d="M1419.9 1664.7H1277.9" stroke="#000" stroke-width="3.8"/><path d="M1258.4 1664.7L1278.9 1654.7L1278.9 1674.7Z" fill="#000"/>
<text x="1489.9" y="1811.2" font-family="'Liberation Sans', sans-serif" font-size="25.5" textLength="213.7" lengthAdjust="spacingAndGlyphs" fill="#000">increasing FWHM</text>
<path d="M1522.1 1828.4H1662.8" stroke="#000" stroke-width="3.8" stroke-dasharray="16 14"/><path d="M1683.3 1828.4L1662.8 1818.4L1662.8 1838.4Z" fill="#000"/>
<rect x="999.3" y="1422.1" width="712.7" height="541.7" fill="none" stroke="#333" stroke-width="1.3"/>
<path d="M999.3 1963.8v-7M999.3 1422.1v7M1088.4 1963.8v-7M1088.4 1422.1v7M1177.5 1963.8v-7M1177.5 1422.1v7M1266.6 1963.8v-7M1266.6 1422.1v7M1355.7 1963.8v-7M1355.7 1422.1v7M1444.7 1963.8v-7M1444.7 1422.1v7M1533.8 1963.8v-7M1533.8 1422.1v7M1622.9 1963.8v-7M1622.9 1422.1v7M1712 1963.8v-7M1712 1422.1v7M999.3 1963.8h7M1712 1963.8h-7M999.3 1903.6h7M1712 1903.6h-7M999.3 1843.4h7M1712 1843.4h-7M999.3 1783.2h7M1712 1783.2h-7M999.3 1723h7M1712 1723h-7M999.3 1662.9h7M1712 1662.9h-7M999.3 1602.7h7M1712 1602.7h-7M999.3 1542.5h7M1712 1542.5h-7M999.3 1482.3h7M1712 1482.3h-7M999.3 1422.1h7M1712 1422.1h-7" stroke="#333" stroke-width="1.3" fill="none"/>
<text x="999.3" y="1992.8" text-anchor="middle" font-size="22" fill="#262626">0</text>
<text x="1088.4" y="1992.8" text-anchor="middle" font-size="22" fill="#262626">5</text>
<text x="1177.5" y="1992.8" text-anchor="middle" font-size="22" fill="#262626">10</text>
<text x="1266.6" y="1992.8" text-anchor="middle" font-size="22" fill="#262626">15</text>
<text x="1355.7" y="1992.8" text-anchor="middle" font-size="22" fill="#262626">20</text>
<text x="1444.7" y="1992.8" text-anchor="middle" font-size="22" fill="#262626">25</text>
<text x="1533.8" y="1992.8" text-anchor="middle" font-size="22" fill="#262626">30</text>
<text x="1622.9" y="1992.8" text-anchor="middle" font-size="22" fill="#262626">35</text>
<text x="1712" y="1992.8" text-anchor="middle" font-size="22" fill="#262626">40</text>
<text x="990.3" y="1971.6" text-anchor="end" font-size="22" fill="#262626">0</text>
<text x="990.3" y="1911.4" text-anchor="end" font-size="22" fill="#262626">5</text>
<text x="990.3" y="1851.2" text-anchor="end" font-size="22" fill="#262626">10</text>
<text x="990.3" y="1791" text-anchor="end" font-size="22" fill="#262626">15</text>
<text x="990.3" y="1730.8" text-anchor="end" font-size="22" fill="#262626">20</text>
<text x="990.3" y="1670.7" text-anchor="end" font-size="22" fill="#262626">25</text>
<text x="990.3" y="1610.5" text-anchor="end" font-size="22" fill="#262626">30</text>
<text x="990.3" y="1550.3" text-anchor="end" font-size="22" fill="#262626">35</text>
<text x="990.3" y="1490.1" text-anchor="end" font-size="22" fill="#262626">40</text>
<text x="990.3" y="1429.9" text-anchor="end" font-size="22" fill="#262626">45</text>
<text x="1355.7" y="2026.8" text-anchor="middle" font-size="30" fill="#262626">Bias [%]</text>
<text transform="translate(949.3 1692.9) rotate(-90)" text-anchor="middle" font-size="30" fill="#262626">SD [%]</text>
<text x="1240.6" y="1412.3" font-family="'Liberation Sans', 'DejaVu Sans', sans-serif" font-weight="bold" font-size="34" textLength="254.6" lengthAdjust="spacingAndGlyphs" fill="#000">Frame 21 (MET)</text>
</svg>
</body></html>
